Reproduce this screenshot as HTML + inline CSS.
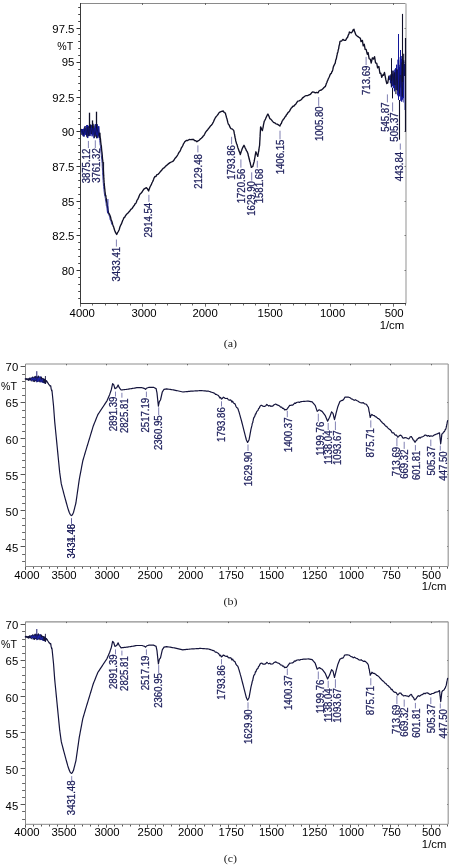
<!DOCTYPE html>
<html><head><meta charset="utf-8"><title>FTIR spectra</title>
<style>html,body{margin:0;padding:0;background:#fff;}svg{display:block;}</style>
</head><body>
<svg width="456" height="867" viewBox="0 0 456 867">
<rect width="456" height="867" fill="#fff"/>
<line x1="80.5" y1="3.5" x2="405.5" y2="3.5" stroke="#8a8a8a" stroke-width="1"/>
<line x1="406" y1="3.5" x2="406" y2="303.5" stroke="#9c9c9c" stroke-width="1.1"/>
<line x1="78.2" y1="298.5" x2="80.5" y2="298.5" stroke="#444" stroke-width="1"/>
<line x1="78.2" y1="291.5" x2="80.5" y2="291.5" stroke="#444" stroke-width="1"/>
<line x1="78.2" y1="284.5" x2="80.5" y2="284.5" stroke="#444" stroke-width="1"/>
<line x1="78.2" y1="277.5" x2="80.5" y2="277.5" stroke="#444" stroke-width="1"/>
<line x1="76.5" y1="270.5" x2="80.5" y2="270.5" stroke="#333" stroke-width="1"/>
<line x1="78.2" y1="263.5" x2="80.5" y2="263.5" stroke="#444" stroke-width="1"/>
<line x1="78.2" y1="256.5" x2="80.5" y2="256.5" stroke="#444" stroke-width="1"/>
<line x1="78.2" y1="249.5" x2="80.5" y2="249.5" stroke="#444" stroke-width="1"/>
<line x1="78.2" y1="242.5" x2="80.5" y2="242.5" stroke="#444" stroke-width="1"/>
<line x1="76.5" y1="235.5" x2="80.5" y2="235.5" stroke="#333" stroke-width="1"/>
<line x1="78.2" y1="228.5" x2="80.5" y2="228.5" stroke="#444" stroke-width="1"/>
<line x1="78.2" y1="221.5" x2="80.5" y2="221.5" stroke="#444" stroke-width="1"/>
<line x1="78.2" y1="214.5" x2="80.5" y2="214.5" stroke="#444" stroke-width="1"/>
<line x1="78.2" y1="208.5" x2="80.5" y2="208.5" stroke="#444" stroke-width="1"/>
<line x1="76.5" y1="201.5" x2="80.5" y2="201.5" stroke="#333" stroke-width="1"/>
<line x1="78.2" y1="194.5" x2="80.5" y2="194.5" stroke="#444" stroke-width="1"/>
<line x1="78.2" y1="187.5" x2="80.5" y2="187.5" stroke="#444" stroke-width="1"/>
<line x1="78.2" y1="180.5" x2="80.5" y2="180.5" stroke="#444" stroke-width="1"/>
<line x1="78.2" y1="173.5" x2="80.5" y2="173.5" stroke="#444" stroke-width="1"/>
<line x1="76.5" y1="166.5" x2="80.5" y2="166.5" stroke="#333" stroke-width="1"/>
<line x1="78.2" y1="159.5" x2="80.5" y2="159.5" stroke="#444" stroke-width="1"/>
<line x1="78.2" y1="152.5" x2="80.5" y2="152.5" stroke="#444" stroke-width="1"/>
<line x1="78.2" y1="145.5" x2="80.5" y2="145.5" stroke="#444" stroke-width="1"/>
<line x1="78.2" y1="138.5" x2="80.5" y2="138.5" stroke="#444" stroke-width="1"/>
<line x1="76.5" y1="131.5" x2="80.5" y2="131.5" stroke="#333" stroke-width="1"/>
<line x1="78.2" y1="124.5" x2="80.5" y2="124.5" stroke="#444" stroke-width="1"/>
<line x1="78.2" y1="118.5" x2="80.5" y2="118.5" stroke="#444" stroke-width="1"/>
<line x1="78.2" y1="111.5" x2="80.5" y2="111.5" stroke="#444" stroke-width="1"/>
<line x1="78.2" y1="104.5" x2="80.5" y2="104.5" stroke="#444" stroke-width="1"/>
<line x1="76.5" y1="97.5" x2="80.5" y2="97.5" stroke="#333" stroke-width="1"/>
<line x1="78.2" y1="90.5" x2="80.5" y2="90.5" stroke="#444" stroke-width="1"/>
<line x1="78.2" y1="83.5" x2="80.5" y2="83.5" stroke="#444" stroke-width="1"/>
<line x1="78.2" y1="76.5" x2="80.5" y2="76.5" stroke="#444" stroke-width="1"/>
<line x1="78.2" y1="69.5" x2="80.5" y2="69.5" stroke="#444" stroke-width="1"/>
<line x1="76.5" y1="62.5" x2="80.5" y2="62.5" stroke="#333" stroke-width="1"/>
<line x1="78.2" y1="55.5" x2="80.5" y2="55.5" stroke="#444" stroke-width="1"/>
<line x1="78.2" y1="48.5" x2="80.5" y2="48.5" stroke="#444" stroke-width="1"/>
<line x1="78.2" y1="41.5" x2="80.5" y2="41.5" stroke="#444" stroke-width="1"/>
<line x1="78.2" y1="34.5" x2="80.5" y2="34.5" stroke="#444" stroke-width="1"/>
<line x1="76.5" y1="28.5" x2="80.5" y2="28.5" stroke="#333" stroke-width="1"/>
<line x1="78.2" y1="21.5" x2="80.5" y2="21.5" stroke="#444" stroke-width="1"/>
<line x1="78.2" y1="14.5" x2="80.5" y2="14.5" stroke="#444" stroke-width="1"/>
<line x1="78.2" y1="7.5" x2="80.5" y2="7.5" stroke="#444" stroke-width="1"/>
<text transform="translate(74.4,33) scale(1.07,1)" text-anchor="end" font-size="10.6" fill="#000" font-family='"Liberation Sans", Arial, sans-serif'>97.5</text>
<text transform="translate(74.4,66) scale(1.07,1)" text-anchor="end" font-size="10.6" fill="#000" font-family='"Liberation Sans", Arial, sans-serif'>95</text>
<text transform="translate(74.4,102) scale(1.07,1)" text-anchor="end" font-size="10.6" fill="#000" font-family='"Liberation Sans", Arial, sans-serif'>92.5</text>
<text transform="translate(74.4,136) scale(1.07,1)" text-anchor="end" font-size="10.6" fill="#000" font-family='"Liberation Sans", Arial, sans-serif'>90</text>
<text transform="translate(74.4,171) scale(1.07,1)" text-anchor="end" font-size="10.6" fill="#000" font-family='"Liberation Sans", Arial, sans-serif'>87.5</text>
<text transform="translate(74.4,206) scale(1.07,1)" text-anchor="end" font-size="10.6" fill="#000" font-family='"Liberation Sans", Arial, sans-serif'>85</text>
<text transform="translate(74.4,240) scale(1.07,1)" text-anchor="end" font-size="10.6" fill="#000" font-family='"Liberation Sans", Arial, sans-serif'>82.5</text>
<text transform="translate(74.4,275) scale(1.07,1)" text-anchor="end" font-size="10.6" fill="#000" font-family='"Liberation Sans", Arial, sans-serif'>80</text>
<text x="73.2" y="49.5" text-anchor="end" font-size="10.6" fill="#000" font-family='"Liberation Sans", Arial, sans-serif'>%T</text>
<line x1="80.5" y1="303.5" x2="80.5" y2="306.7" stroke="#6a6a6a" stroke-width="1"/>
<line x1="92.5" y1="303.5" x2="92.5" y2="305.5" stroke="#6a6a6a" stroke-width="1"/>
<line x1="105.5" y1="303.5" x2="105.5" y2="305.5" stroke="#6a6a6a" stroke-width="1"/>
<line x1="117.5" y1="303.5" x2="117.5" y2="305.5" stroke="#6a6a6a" stroke-width="1"/>
<line x1="130.5" y1="303.5" x2="130.5" y2="305.5" stroke="#6a6a6a" stroke-width="1"/>
<line x1="142.5" y1="303.5" x2="142.5" y2="306.7" stroke="#6a6a6a" stroke-width="1"/>
<line x1="155.5" y1="303.5" x2="155.5" y2="305.5" stroke="#6a6a6a" stroke-width="1"/>
<line x1="167.5" y1="303.5" x2="167.5" y2="305.5" stroke="#6a6a6a" stroke-width="1"/>
<line x1="180.5" y1="303.5" x2="180.5" y2="305.5" stroke="#6a6a6a" stroke-width="1"/>
<line x1="192.5" y1="303.5" x2="192.5" y2="305.5" stroke="#6a6a6a" stroke-width="1"/>
<line x1="205.5" y1="303.5" x2="205.5" y2="306.7" stroke="#6a6a6a" stroke-width="1"/>
<line x1="218.5" y1="303.5" x2="218.5" y2="305.5" stroke="#6a6a6a" stroke-width="1"/>
<line x1="230.5" y1="303.5" x2="230.5" y2="305.5" stroke="#6a6a6a" stroke-width="1"/>
<line x1="243.5" y1="303.5" x2="243.5" y2="305.5" stroke="#6a6a6a" stroke-width="1"/>
<line x1="255.5" y1="303.5" x2="255.5" y2="305.5" stroke="#6a6a6a" stroke-width="1"/>
<line x1="268.5" y1="303.5" x2="268.5" y2="306.7" stroke="#6a6a6a" stroke-width="1"/>
<line x1="280.5" y1="303.5" x2="280.5" y2="305.5" stroke="#6a6a6a" stroke-width="1"/>
<line x1="293.5" y1="303.5" x2="293.5" y2="305.5" stroke="#6a6a6a" stroke-width="1"/>
<line x1="305.5" y1="303.5" x2="305.5" y2="305.5" stroke="#6a6a6a" stroke-width="1"/>
<line x1="318.5" y1="303.5" x2="318.5" y2="305.5" stroke="#6a6a6a" stroke-width="1"/>
<line x1="330.5" y1="303.5" x2="330.5" y2="306.7" stroke="#6a6a6a" stroke-width="1"/>
<line x1="343.5" y1="303.5" x2="343.5" y2="305.5" stroke="#6a6a6a" stroke-width="1"/>
<line x1="355.5" y1="303.5" x2="355.5" y2="305.5" stroke="#6a6a6a" stroke-width="1"/>
<line x1="368.5" y1="303.5" x2="368.5" y2="305.5" stroke="#6a6a6a" stroke-width="1"/>
<line x1="380.5" y1="303.5" x2="380.5" y2="305.5" stroke="#6a6a6a" stroke-width="1"/>
<line x1="393.5" y1="303.5" x2="393.5" y2="306.7" stroke="#6a6a6a" stroke-width="1"/>
<line x1="405.5" y1="303.5" x2="405.5" y2="305.5" stroke="#6a6a6a" stroke-width="1"/>
<line x1="142.5" y1="3.5" x2="142.5" y2="4.7" stroke="#333" stroke-width="1"/>
<line x1="205.5" y1="3.5" x2="205.5" y2="4.7" stroke="#333" stroke-width="1"/>
<line x1="268.5" y1="3.5" x2="268.5" y2="4.7" stroke="#333" stroke-width="1"/>
<line x1="330.5" y1="3.5" x2="330.5" y2="4.7" stroke="#333" stroke-width="1"/>
<line x1="393.5" y1="3.5" x2="393.5" y2="4.7" stroke="#333" stroke-width="1"/>
<line x1="404.5" y1="28.5" x2="406" y2="28.5" stroke="#777" stroke-width="1"/>
<line x1="404.5" y1="62.5" x2="406" y2="62.5" stroke="#777" stroke-width="1"/>
<line x1="404.5" y1="97.5" x2="406" y2="97.5" stroke="#777" stroke-width="1"/>
<line x1="404.5" y1="131.5" x2="406" y2="131.5" stroke="#777" stroke-width="1"/>
<line x1="404.5" y1="166.5" x2="406" y2="166.5" stroke="#777" stroke-width="1"/>
<line x1="404.5" y1="201.5" x2="406" y2="201.5" stroke="#777" stroke-width="1"/>
<line x1="404.5" y1="235.5" x2="406" y2="235.5" stroke="#777" stroke-width="1"/>
<line x1="404.5" y1="270.5" x2="406" y2="270.5" stroke="#777" stroke-width="1"/>
<line x1="80.5" y1="3" x2="80.5" y2="304" stroke="#3a3a3a" stroke-width="1"/>
<line x1="80" y1="303.5" x2="406" y2="303.5" stroke="#3a3a3a" stroke-width="1"/>
<text transform="translate(82.2,316.5) scale(1.07,1)" text-anchor="middle" font-size="10.6" fill="#000" font-family='"Liberation Sans", Arial, sans-serif'>4000</text>
<text transform="translate(144,316.5) scale(1.07,1)" text-anchor="middle" font-size="10.6" fill="#000" font-family='"Liberation Sans", Arial, sans-serif'>3000</text>
<text transform="translate(205.1,316.5) scale(1.07,1)" text-anchor="middle" font-size="10.6" fill="#000" font-family='"Liberation Sans", Arial, sans-serif'>2000</text>
<text transform="translate(270.2,316.5) scale(1.07,1)" text-anchor="middle" font-size="10.6" fill="#000" font-family='"Liberation Sans", Arial, sans-serif'>1500</text>
<text transform="translate(332.6,316.5) scale(1.07,1)" text-anchor="middle" font-size="10.6" fill="#000" font-family='"Liberation Sans", Arial, sans-serif'>1000</text>
<text transform="translate(394.15,316.5) scale(1.07,1)" text-anchor="middle" font-size="10.6" fill="#000" font-family='"Liberation Sans", Arial, sans-serif'>500</text>
<text transform="translate(404.2,328.8) scale(1.07,1)" text-anchor="end" font-size="10.6" fill="#000" font-family='"Liberation Sans", Arial, sans-serif'>1/cm</text>
<text transform="translate(230.3,346.7) scale(1.07,1)" text-anchor="middle" font-size="11.2" fill="#222" font-family='"Liberation Serif", "Times New Roman", serif'>(a)</text>
<polyline points="80.9,131.6 81.2,129.26 82.04,135.02 82.92,129.12 83.37,136.4 84.44,127.14 85.03,133.76 85.8,128.31 86.59,135.22 87.11,126.87 88.2,136.11 89.19,126.54 89.64,134.82 90.52,124.68 90.94,134.07 91.72,126.55 92.82,134.78 93.96,125.51 95,136.65 96.15,127.8 96.63,138.23 97.2,128.12 97.95,135.75 98.59,127.07 99.3,136.95 99.8,133.2" fill="none" stroke="#101028" stroke-width="0.9" stroke-linejoin="round" stroke-linecap="round"/>
<polyline points="81.5,129.51 82.03,133.73 82.51,129.04 83.06,135.81 83.56,128.79 84.21,136.49 84.61,126.49 85.27,134.81 85.54,128.96 86.27,135.11 86.83,125.07 87.08,135.77 87.36,124.97 87.73,138.07 88.22,125.81 88.89,136.1 89.46,125.69 90.04,136.04 90.43,127.72 91.18,134.13 91.78,124.85 92.14,136.34 92.43,126.84 92.88,134.23 93.32,127.82 94,138.25 94.35,127.78 94.84,134.22 95.29,124.13 95.85,135.41 96.24,124.2 96.65,134.49 97.28,124.33 97.65,138.14 97.93,127.32 98.27,136.07 98.75,126.11 99.36,137.71" fill="none" stroke="#13179a" stroke-width="1.0" stroke-linejoin="round" stroke-linecap="round"/>
<polyline points="98.9,133.2 99.06,134.7 99.22,136.67 99.38,138.41 99.54,138.66 99.7,140.5 99.86,142.39 100.02,143.69 100.19,145.03 100.35,145.45 100.51,146.71 100.67,148.77 100.84,150.83 101,151.8 101.14,152.75 101.28,154.6 101.41,155.67 101.55,158.02 101.69,159.6 101.82,160.02 101.96,162.5 102.1,163 102.17,163.6 102.24,166.33 102.31,167.83 102.39,167.91 102.46,170.3 102.53,171.42 102.6,172.7 102.69,174.91 102.77,174.95 102.86,176.93 102.94,178.93 103.03,179.88 103.11,180.67 103.2,182.4 103.34,183.03 103.49,185.96 103.63,186.51 103.77,188.84 103.91,188.68 104.06,191.28 104.2,192.1 104.43,194.05 104.66,195.63 104.89,195.39 105.11,197.41 105.34,198.22 105.57,200.87 105.8,201.8 106.07,203.14 106.35,205.83 106.62,206.37 106.9,208.2 107.17,210.29 107.43,212.06 107.7,213 108.55,214.18 109.4,216.3 109.8,217.75 110.2,219.82 110.6,220.4 111,221.45 111.4,222.79 111.8,224.4" fill="none" stroke="#13179a" stroke-width="0.8" stroke-linejoin="round" stroke-linecap="round"/>
<polyline points="99.3,136.95 99.8,133.2 99.96,134.7 100.12,136.67 100.28,138.41 100.44,138.66 100.6,140.5 100.76,142.39 100.92,143.69 101.09,145.03 101.25,145.45 101.41,146.71 101.58,148.77 101.74,150.83 101.9,151.8 102.04,152.75 102.18,154.6 102.31,155.67 102.45,158.02 102.59,159.6 102.72,160.02 102.86,162.5 103,163 103.07,163.6 103.14,166.33 103.21,167.83 103.29,167.91 103.36,170.3 103.43,171.42 103.5,172.7 103.59,174.91 103.67,174.95 103.76,176.93 103.84,178.93 103.93,179.88 104.01,180.67 104.1,182.4 104.24,183.03 104.39,185.96 104.53,186.51 104.67,188.84 104.81,188.68 104.96,191.28 105.1,192.1 105.33,194.05 105.56,195.63 105.79,195.39 106.01,197.41 106.24,198.22 106.47,200.87 106.7,201.8 106.97,203.14 107.25,205.83 107.53,206.37 107.8,208.2 108.07,210.29 108.33,212.06 108.6,213 109.45,214.18 110.3,216.3 110.7,217.75 111.1,219.82 111.5,220.4 111.9,221.45 112.3,222.79 112.7,224.4 113.18,226.16 113.66,226.94 114.14,228.83 114.62,230.22 115.1,231.6 115.9,233.11 116.7,234.5 117.5,232.64 118.3,231.6 118.78,230.49 119.26,229.5 119.74,227.56 120.22,226.3 120.7,225.2 121.33,224.22 121.95,222.44 122.58,220.67 123.2,219.5 124,217.63 124.8,217.11 125.6,215.5 126.8,214.08 128,213 129,211.81 130,210.7 130.88,209.37 131.76,208.69 132.64,207.71 133.52,206.17 134.4,205.3 135.06,203.67 135.72,203.52 136.38,202.27 137.04,200.13 137.7,199.5 138.25,198.27 138.8,197.1 139.35,195.49 139.9,194.3 140.78,193.45 141.66,192.61 142.54,191.1 143.42,189.78 144.3,188.8 146.4,187.7 147.13,188.47 147.87,189.63 148.6,191 149.15,189.24 149.7,187.82 150.25,186.56 150.8,185.5 151.35,184.61 151.9,183.01 152.45,182.04 153,180.9 153.55,179.51 154.1,177.9 155.04,176.46 155.99,176.48 156.93,174.62 157.87,174.43 158.81,173.56 159.76,172.42 160.7,171.3 161.64,170.25 162.59,168.95 163.53,168.02 164.47,167.68 165.41,166.3 166.36,165.68 167.3,164.7 168.68,163.62 170.05,162.68 171.43,162 172.8,161.4 173.66,160.55 174.52,159.19 175.38,157.98 176.24,156.99 177.1,155.9 177.79,154.72 178.47,153.44 179.16,152.13 179.85,151.46 180.54,149.99 181.22,148.18 181.91,147.04 182.6,146 183.33,144.22 184.07,142.98 184.8,141.7 186.27,140.45 187.73,140.5 189.2,139.5 190.67,139.57 192.13,139.41 193.6,139.5 194.7,140.67 195.8,140.78 196.9,141.7 198,140.91 199.1,140.41 200.2,139.11 201.3,138.28 202.4,137.3 203.13,136.08 203.87,135.55 204.6,134.23 205.33,132.72 206.07,131.67 206.8,130.7 207.7,129.68 208.6,128.52 209.5,127.42 210.4,126.02 211.3,125.27 212.2,124.1 212.86,122.96 213.52,121.7 214.18,120.09 214.84,118.77 215.5,117.5 216.38,116.42 217.26,115.37 218.14,114.24 219.02,112.74 219.9,112.1 221.55,111.34 223.2,111 224.3,112.54 225.4,113.2 225.76,114.86 226.12,115.9 226.49,117.51 226.85,118.39 227.21,119.8 227.58,121.39 227.94,122.92 228.3,124.1 229,124.82 229.7,126.37 230.4,127.92 231.1,128.7 232.5,129.1 233.8,130.6 234.07,132.14 234.34,133.93 234.61,134.57 234.89,136.74 235.16,138.12 235.43,138.83 235.7,140.7 236.15,142.12 236.6,143.7 237.05,144.6 237.5,146.37 237.95,147.93 238.4,149 238.88,150.64 239.35,151.69 239.83,152.73 240.3,154.5 240.75,153.16 241.2,151.47 241.65,150.41 242.1,149 242.73,147.56 243.37,146.4 244,145.3 244.6,146.57 245.2,148.05 245.8,149 246.4,150.66 247,151.38 247.6,152.7 247.98,153.72 248.36,155.85 248.74,156.94 249.12,158.77 249.5,160 249.86,161.78 250.22,162.54 250.58,164.65 250.94,165.73 251.3,167.4 252.8,166.5 253.23,164.81 253.67,163.28 254.1,161.9 254.36,160.49 254.61,158.78 254.87,157.57 255.13,155.93 255.39,154.35 255.64,153.02 255.9,151.8 256.53,153.5 257.17,154.7 257.8,156.4 258.03,154.74 258.25,153.5 258.48,151.98 258.7,151.29 258.93,149.72 259.15,147.76 259.38,146.5 259.6,145.3 259.67,143.93 259.74,142.7 259.81,141.26 259.89,140.06 259.96,138.96 260.03,137.1 260.1,136.15 260.17,134.48 260.24,133.5 260.31,131.99 260.39,131.12 260.46,129.87 260.53,128.63 260.6,126.9 261.2,128.05 261.8,129.47 262.4,130.6 262.66,128.97 262.91,128.13 263.17,126.86 263.43,125.22 263.69,123.8 263.94,122.86 264.2,121.3 264.83,120.29 265.47,119.1 266.1,117.6 266.7,116.21 267.3,114.97 267.9,114 268.53,115.31 269.17,116.79 269.8,118.6 270.73,119.08 271.65,120.11 272.57,121.37 273.5,122.3 274.7,122.84 275.9,123.85 277.1,124.1 278.5,124.94 279.9,126 280.6,124.3 281.3,123.59 282,121.42 282.7,120.4 283.44,119.16 284.18,118.44 284.92,116.94 285.66,116.42 286.4,114.9 287.19,114.06 287.97,112.61 288.76,112.06 289.54,111.05 290.33,109.63 291.11,108.24 291.9,107.5 292.93,106.24 293.97,105.99 295,104.8 295.93,103.92 296.87,102.47 297.8,101.1 299.15,100.9 300.5,100.2 301.43,99.53 302.37,98.1 303.3,97.4 304.7,96.24 306.1,95.6 307.9,95.48 309.7,94.7 310.63,94.07 311.57,92.78 312.5,91.9 313.9,92.14 315.3,92.8 316.65,92.42 318,92.8 319,91 320.2,90.28 321.4,90.1 322.6,89.1 324,87.48 325.4,86.4 325.87,85 326.33,83.51 326.8,82.76 327.27,81.07 327.73,80.39 328.2,79 328.82,77.76 329.43,76.46 330.05,74.82 330.67,73.67 331.28,73.62 331.9,71.6 332.35,71.25 332.8,69.64 333.25,67.33 333.7,66.08 334.15,65.16 334.6,64.2 334.98,63.67 335.36,62.53 335.74,59.82 336.12,59.35 336.5,57.8 336.8,56.18 337.1,54.94 337.4,53.05 337.7,52.71 338,51.45 338.3,49.5 338.62,49 338.93,46.7 339.25,45.23 339.57,44.26 339.88,41.85 340.2,41.2 341.55,41.06 342.9,39.4 344.3,40.39 345.7,40.3 346.6,38.36 347.5,37.5 347.98,35.93 348.45,34.72 348.92,34.08 349.4,32 351.2,32.9 352.13,32.05 353.07,29.91 354,29.2 354.45,31.5 354.9,32 355.53,34.09 356.17,35.18 356.8,35.7 358,36.59 359.2,37.45 360.4,38.4 361,41.69 362.4,40.36 363.22,45.78 364.27,44.3 365.13,49.39 366.19,49.53 367.26,54.22 368.09,52.62 369.14,58.73 370.39,59.39 371.2,63.05 372.36,57.83 373.54,59.06 374.55,56.69 375.56,62.85 376.77,63.46 377.59,67.8 378.84,66.4 379.9,73.21 380.79,73.06 381.77,77.37 382.67,74.91 383.51,75.32 384.46,72.4 385.77,79.47 386.79,83.51 387.76,82.85 388.89,76.17 389.17,78.52 389.7,79.2" fill="none" stroke="#101028" stroke-width="1.35" stroke-linejoin="round" stroke-linecap="round"/>
<polyline points="81.5,129.1 83.4,134.53 85.56,126.12 86.72,137.2 87.88,127.14 88.89,136.04 90.04,124.61 91.53,134.08 93.3,123.77 94.54,137.81 96.73,127.45 98.82,135.13" fill="none" stroke="#101028" stroke-width="0.6" stroke-linejoin="round" stroke-linecap="round"/>
<line x1="89.5" y1="112.7" x2="89.5" y2="128" stroke="#101028" stroke-width="1.3"/>
<line x1="96.5" y1="111.7" x2="96.5" y2="128" stroke="#101028" stroke-width="1.3"/>
<line x1="92.5" y1="120.4" x2="92.5" y2="128" stroke="#101028" stroke-width="1.3"/>
<polyline points="389.7,79.2 390,75.43 390.43,83.18 390.94,75.73 391.44,87.31 391.78,76.55 392.18,83.78 392.39,73.88 392.65,85.98 393.03,70.7 393.28,88.08 393.78,74.4 394.01,85.57 394.23,73.09 394.45,91.25 394.93,69.59 395.18,85.09 395.66,68.23 396.17,90.11 396.58,64.78 397.09,90 397.6,69.95 397.88,95.21 398.11,59.69 398.31,96.26 398.7,57.11 399.11,95.93 399.39,67.03 399.74,96.33 400.08,64.84 400.28,87.36 400.46,65.09 400.93,100.72 401.38,58.98 401.76,101.63 401.95,56 402.46,99.54 402.9,66.73 403.4,98.13 403.7,60.31 404.15,102.45 404.59,64.13 405.06,104.47 405.57,51.94" fill="none" stroke="#13179a" stroke-width="1.0" stroke-linejoin="round" stroke-linecap="round"/>
<polyline points="390.5,74.66 391.46,86.83 392.96,70.75 394.07,84.96 394.71,72.25 395.93,94.13 396.9,69.14 397.95,90.79 398.67,60.18 399.34,93.73 400.91,62.42 402.31,96.65 403.68,53.78 404.55,93.81" fill="none" stroke="#101028" stroke-width="0.7" stroke-linejoin="round" stroke-linecap="round"/>
<line x1="391.5" y1="58.2" x2="391.5" y2="80.8" stroke="#101028" stroke-width="1.0"/>
<line x1="392.5" y1="88" x2="392.5" y2="98.4" stroke="#101028" stroke-width="1.0"/>
<line x1="398.5" y1="34" x2="398.5" y2="100" stroke="#13179a" stroke-width="1.0"/>
<line x1="399.5" y1="100" x2="399.5" y2="139.7" stroke="#101028" stroke-width="1.1"/>
<line x1="402.5" y1="13.9" x2="402.5" y2="82" stroke="#101028" stroke-width="1.1"/>
<line x1="405.5" y1="38" x2="405.5" y2="131.8" stroke="#101028" stroke-width="1.2"/>
<line x1="400.5" y1="50" x2="400.5" y2="75" stroke="#13179a" stroke-width="1.0"/>
<line x1="404.5" y1="76" x2="404.5" y2="110" stroke="#8a8fc8" stroke-width="1.0"/>
<line x1="103.6" y1="162" x2="103.6" y2="176" stroke="#101028" stroke-width="0.9"/>
<line x1="107.9" y1="199" x2="107.9" y2="213" stroke="#13179a" stroke-width="0.9"/>
<text transform="translate(90.01,148.72) scale(1.06,1) rotate(-90)" text-anchor="end" font-size="9.6" fill="#1d1f5c" stroke="#1d1f5c" stroke-width="0.25" font-family='"Liberation Sans", Arial, sans-serif'>3875.12</text>
<line x1="88.4" y1="140.9" x2="88.4" y2="148.1" stroke="#55559a" stroke-width="0.75"/>
<text transform="translate(99.51,148.22) scale(1.06,1) rotate(-90)" text-anchor="end" font-size="9.6" fill="#1d1f5c" stroke="#1d1f5c" stroke-width="0.25" font-family='"Liberation Sans", Arial, sans-serif'>3761.32</text>
<line x1="95.3" y1="140.3" x2="95.3" y2="148" stroke="#55559a" stroke-width="0.75"/>
<text transform="translate(120.06,246.93) scale(1.06,1) rotate(-90)" text-anchor="end" font-size="9.6" fill="#1d1f5c" stroke="#1d1f5c" stroke-width="0.25" font-family='"Liberation Sans", Arial, sans-serif'>3433.41</text>
<line x1="116.4" y1="239.5" x2="116.4" y2="246.6" stroke="#55559a" stroke-width="0.75"/>
<text transform="translate(152.41,202.82) scale(1.06,1) rotate(-90)" text-anchor="end" font-size="9.6" fill="#1d1f5c" stroke="#1d1f5c" stroke-width="0.25" font-family='"Liberation Sans", Arial, sans-serif'>2914.54</text>
<line x1="148.9" y1="194.8" x2="148.9" y2="201.8" stroke="#55559a" stroke-width="0.75"/>
<text transform="translate(201.86,154.18) scale(1.06,1) rotate(-90)" text-anchor="end" font-size="9.6" fill="#1d1f5c" stroke="#1d1f5c" stroke-width="0.25" font-family='"Liberation Sans", Arial, sans-serif'>2129.48</text>
<line x1="197.9" y1="145.4" x2="197.9" y2="152.4" stroke="#55559a" stroke-width="0.75"/>
<text transform="translate(234.96,145.18) scale(1.06,1) rotate(-90)" text-anchor="end" font-size="9.6" fill="#1d1f5c" stroke="#1d1f5c" stroke-width="0.25" font-family='"Liberation Sans", Arial, sans-serif'>1793.86</text>
<line x1="231.6" y1="136.8" x2="231.6" y2="144.2" stroke="#55559a" stroke-width="0.75"/>
<text transform="translate(244.86,168.68) scale(1.06,1) rotate(-90)" text-anchor="end" font-size="9.6" fill="#1d1f5c" stroke="#1d1f5c" stroke-width="0.25" font-family='"Liberation Sans", Arial, sans-serif'>1720.56</text>
<line x1="240.9" y1="159.4" x2="240.9" y2="167.7" stroke="#55559a" stroke-width="0.75"/>
<text transform="translate(255.46,181.12) scale(1.06,1) rotate(-90)" text-anchor="end" font-size="9.6" fill="#1d1f5c" stroke="#1d1f5c" stroke-width="0.25" font-family='"Liberation Sans", Arial, sans-serif'>1629.90</text>
<line x1="251.7" y1="172.3" x2="251.7" y2="180.6" stroke="#55559a" stroke-width="0.75"/>
<text transform="translate(263.46,168.68) scale(1.06,1) rotate(-90)" text-anchor="end" font-size="9.6" fill="#1d1f5c" stroke="#1d1f5c" stroke-width="0.25" font-family='"Liberation Sans", Arial, sans-serif'>1581.68</text>
<line x1="257.3" y1="160.8" x2="257.3" y2="167.7" stroke="#55559a" stroke-width="0.75"/>
<text transform="translate(283.91,139.7) scale(1.06,1) rotate(-90)" text-anchor="end" font-size="9.6" fill="#1d1f5c" stroke="#1d1f5c" stroke-width="0.25" font-family='"Liberation Sans", Arial, sans-serif'>1406.15</text>
<line x1="280" y1="130.7" x2="280" y2="139.4" stroke="#55559a" stroke-width="0.75"/>
<text transform="translate(322.66,106.42) scale(1.06,1) rotate(-90)" text-anchor="end" font-size="9.6" fill="#1d1f5c" stroke="#1d1f5c" stroke-width="0.25" font-family='"Liberation Sans", Arial, sans-serif'>1005.80</text>
<line x1="318.7" y1="97.1" x2="318.7" y2="105.8" stroke="#55559a" stroke-width="0.75"/>
<text transform="translate(370.46,65.65) scale(1.06,1) rotate(-90)" text-anchor="end" font-size="9.6" fill="#1d1f5c" stroke="#1d1f5c" stroke-width="0.25" font-family='"Liberation Sans", Arial, sans-serif'>713.69</text>
<line x1="366.1" y1="56.9" x2="366.1" y2="65" stroke="#55559a" stroke-width="0.75"/>
<text transform="translate(388.96,102.52) scale(1.06,1) rotate(-90)" text-anchor="end" font-size="9.6" fill="#1d1f5c" stroke="#1d1f5c" stroke-width="0.25" font-family='"Liberation Sans", Arial, sans-serif'>545.87</text>
<line x1="387.4" y1="94.4" x2="387.4" y2="102.4" stroke="#55559a" stroke-width="0.75"/>
<text transform="translate(398.16,112.32) scale(1.06,1) rotate(-90)" text-anchor="end" font-size="9.6" fill="#1d1f5c" stroke="#1d1f5c" stroke-width="0.25" font-family='"Liberation Sans", Arial, sans-serif'>505.37</text>
<line x1="392.6" y1="102.4" x2="392.6" y2="111.6" stroke="#55559a" stroke-width="0.75"/>
<text transform="translate(403.26,151.82) scale(1.06,1) rotate(-90)" text-anchor="end" font-size="9.6" fill="#1d1f5c" stroke="#1d1f5c" stroke-width="0.25" font-family='"Liberation Sans", Arial, sans-serif'>443.84</text>
<line x1="400.3" y1="143.5" x2="400.3" y2="149.7" stroke="#55559a" stroke-width="0.75"/>
<line x1="25.5" y1="364" x2="448.2" y2="364" stroke="#8e8e8e" stroke-width="1.2"/>
<line x1="448.2" y1="364" x2="448.2" y2="566.5" stroke="#9a9a9a" stroke-width="1.2"/>
<line x1="22.1" y1="561.5" x2="25.5" y2="561.5" stroke="#666" stroke-width="1"/>
<line x1="22.1" y1="554.5" x2="25.5" y2="554.5" stroke="#666" stroke-width="1"/>
<line x1="20.6" y1="546.5" x2="25.5" y2="546.5" stroke="#555" stroke-width="1"/>
<line x1="22.1" y1="539.5" x2="25.5" y2="539.5" stroke="#666" stroke-width="1"/>
<line x1="22.1" y1="532.5" x2="25.5" y2="532.5" stroke="#666" stroke-width="1"/>
<line x1="22.1" y1="525.5" x2="25.5" y2="525.5" stroke="#666" stroke-width="1"/>
<line x1="22.1" y1="518.5" x2="25.5" y2="518.5" stroke="#666" stroke-width="1"/>
<line x1="20.6" y1="510.5" x2="25.5" y2="510.5" stroke="#555" stroke-width="1"/>
<line x1="22.1" y1="503.5" x2="25.5" y2="503.5" stroke="#666" stroke-width="1"/>
<line x1="22.1" y1="496.5" x2="25.5" y2="496.5" stroke="#666" stroke-width="1"/>
<line x1="22.1" y1="489.5" x2="25.5" y2="489.5" stroke="#666" stroke-width="1"/>
<line x1="22.1" y1="482.5" x2="25.5" y2="482.5" stroke="#666" stroke-width="1"/>
<line x1="20.6" y1="474.5" x2="25.5" y2="474.5" stroke="#555" stroke-width="1"/>
<line x1="22.1" y1="467.5" x2="25.5" y2="467.5" stroke="#666" stroke-width="1"/>
<line x1="22.1" y1="460.5" x2="25.5" y2="460.5" stroke="#666" stroke-width="1"/>
<line x1="22.1" y1="453.5" x2="25.5" y2="453.5" stroke="#666" stroke-width="1"/>
<line x1="22.1" y1="446.5" x2="25.5" y2="446.5" stroke="#666" stroke-width="1"/>
<line x1="20.6" y1="438.5" x2="25.5" y2="438.5" stroke="#555" stroke-width="1"/>
<line x1="22.1" y1="431.5" x2="25.5" y2="431.5" stroke="#666" stroke-width="1"/>
<line x1="22.1" y1="424.5" x2="25.5" y2="424.5" stroke="#666" stroke-width="1"/>
<line x1="22.1" y1="417.5" x2="25.5" y2="417.5" stroke="#666" stroke-width="1"/>
<line x1="22.1" y1="410.5" x2="25.5" y2="410.5" stroke="#666" stroke-width="1"/>
<line x1="20.6" y1="402.5" x2="25.5" y2="402.5" stroke="#555" stroke-width="1"/>
<line x1="22.1" y1="395.5" x2="25.5" y2="395.5" stroke="#666" stroke-width="1"/>
<line x1="22.1" y1="388.5" x2="25.5" y2="388.5" stroke="#666" stroke-width="1"/>
<line x1="22.1" y1="381.5" x2="25.5" y2="381.5" stroke="#666" stroke-width="1"/>
<line x1="22.1" y1="374.5" x2="25.5" y2="374.5" stroke="#666" stroke-width="1"/>
<line x1="20.6" y1="366.5" x2="25.5" y2="366.5" stroke="#555" stroke-width="1"/>
<text transform="translate(18.2,371) scale(1.07,1)" text-anchor="end" font-size="10.6" fill="#000" font-family='"Liberation Sans", Arial, sans-serif'>70</text>
<text transform="translate(18.2,407) scale(1.07,1)" text-anchor="end" font-size="10.6" fill="#000" font-family='"Liberation Sans", Arial, sans-serif'>65</text>
<text transform="translate(18.2,444) scale(1.07,1)" text-anchor="end" font-size="10.6" fill="#000" font-family='"Liberation Sans", Arial, sans-serif'>60</text>
<text transform="translate(18.2,480) scale(1.07,1)" text-anchor="end" font-size="10.6" fill="#000" font-family='"Liberation Sans", Arial, sans-serif'>55</text>
<text transform="translate(18.2,516) scale(1.07,1)" text-anchor="end" font-size="10.6" fill="#000" font-family='"Liberation Sans", Arial, sans-serif'>50</text>
<text transform="translate(18.2,552) scale(1.07,1)" text-anchor="end" font-size="10.6" fill="#000" font-family='"Liberation Sans", Arial, sans-serif'>45</text>
<text x="17" y="389.7" text-anchor="end" font-size="10.6" fill="#000" font-family='"Liberation Sans", Arial, sans-serif'>%T</text>
<line x1="25.5" y1="566.5" x2="25.5" y2="569.9" stroke="#555" stroke-width="1"/>
<line x1="33.5" y1="566.5" x2="33.5" y2="568.7" stroke="#555" stroke-width="1"/>
<line x1="41.5" y1="566.5" x2="41.5" y2="568.7" stroke="#555" stroke-width="1"/>
<line x1="49.5" y1="566.5" x2="49.5" y2="568.7" stroke="#555" stroke-width="1"/>
<line x1="57.5" y1="566.5" x2="57.5" y2="568.7" stroke="#555" stroke-width="1"/>
<line x1="66.5" y1="566.5" x2="66.5" y2="569.9" stroke="#555" stroke-width="1"/>
<line x1="74.5" y1="566.5" x2="74.5" y2="568.7" stroke="#555" stroke-width="1"/>
<line x1="82.5" y1="566.5" x2="82.5" y2="568.7" stroke="#555" stroke-width="1"/>
<line x1="90.5" y1="566.5" x2="90.5" y2="568.7" stroke="#555" stroke-width="1"/>
<line x1="98.5" y1="566.5" x2="98.5" y2="568.7" stroke="#555" stroke-width="1"/>
<line x1="106.5" y1="566.5" x2="106.5" y2="569.9" stroke="#555" stroke-width="1"/>
<line x1="114.5" y1="566.5" x2="114.5" y2="568.7" stroke="#555" stroke-width="1"/>
<line x1="122.5" y1="566.5" x2="122.5" y2="568.7" stroke="#555" stroke-width="1"/>
<line x1="130.5" y1="566.5" x2="130.5" y2="568.7" stroke="#555" stroke-width="1"/>
<line x1="139.5" y1="566.5" x2="139.5" y2="568.7" stroke="#555" stroke-width="1"/>
<line x1="147.5" y1="566.5" x2="147.5" y2="569.9" stroke="#555" stroke-width="1"/>
<line x1="155.5" y1="566.5" x2="155.5" y2="568.7" stroke="#555" stroke-width="1"/>
<line x1="163.5" y1="566.5" x2="163.5" y2="568.7" stroke="#555" stroke-width="1"/>
<line x1="171.5" y1="566.5" x2="171.5" y2="568.7" stroke="#555" stroke-width="1"/>
<line x1="179.5" y1="566.5" x2="179.5" y2="568.7" stroke="#555" stroke-width="1"/>
<line x1="187.5" y1="566.5" x2="187.5" y2="569.9" stroke="#555" stroke-width="1"/>
<line x1="195.5" y1="566.5" x2="195.5" y2="568.7" stroke="#555" stroke-width="1"/>
<line x1="204.5" y1="566.5" x2="204.5" y2="568.7" stroke="#555" stroke-width="1"/>
<line x1="212.5" y1="566.5" x2="212.5" y2="568.7" stroke="#555" stroke-width="1"/>
<line x1="220.5" y1="566.5" x2="220.5" y2="568.7" stroke="#555" stroke-width="1"/>
<line x1="228.5" y1="566.5" x2="228.5" y2="569.9" stroke="#555" stroke-width="1"/>
<line x1="236.5" y1="566.5" x2="236.5" y2="568.7" stroke="#555" stroke-width="1"/>
<line x1="244.5" y1="566.5" x2="244.5" y2="568.7" stroke="#555" stroke-width="1"/>
<line x1="252.5" y1="566.5" x2="252.5" y2="568.7" stroke="#555" stroke-width="1"/>
<line x1="260.5" y1="566.5" x2="260.5" y2="568.7" stroke="#555" stroke-width="1"/>
<line x1="269.5" y1="566.5" x2="269.5" y2="569.9" stroke="#555" stroke-width="1"/>
<line x1="277.5" y1="566.5" x2="277.5" y2="568.7" stroke="#555" stroke-width="1"/>
<line x1="285.5" y1="566.5" x2="285.5" y2="568.7" stroke="#555" stroke-width="1"/>
<line x1="293.5" y1="566.5" x2="293.5" y2="568.7" stroke="#555" stroke-width="1"/>
<line x1="301.5" y1="566.5" x2="301.5" y2="568.7" stroke="#555" stroke-width="1"/>
<line x1="309.5" y1="566.5" x2="309.5" y2="569.9" stroke="#555" stroke-width="1"/>
<line x1="317.5" y1="566.5" x2="317.5" y2="568.7" stroke="#555" stroke-width="1"/>
<line x1="325.5" y1="566.5" x2="325.5" y2="568.7" stroke="#555" stroke-width="1"/>
<line x1="333.5" y1="566.5" x2="333.5" y2="568.7" stroke="#555" stroke-width="1"/>
<line x1="342.5" y1="566.5" x2="342.5" y2="568.7" stroke="#555" stroke-width="1"/>
<line x1="350.5" y1="566.5" x2="350.5" y2="569.9" stroke="#555" stroke-width="1"/>
<line x1="358.5" y1="566.5" x2="358.5" y2="568.7" stroke="#555" stroke-width="1"/>
<line x1="366.5" y1="566.5" x2="366.5" y2="568.7" stroke="#555" stroke-width="1"/>
<line x1="374.5" y1="566.5" x2="374.5" y2="568.7" stroke="#555" stroke-width="1"/>
<line x1="382.5" y1="566.5" x2="382.5" y2="568.7" stroke="#555" stroke-width="1"/>
<line x1="390.5" y1="566.5" x2="390.5" y2="569.9" stroke="#555" stroke-width="1"/>
<line x1="398.5" y1="566.5" x2="398.5" y2="568.7" stroke="#555" stroke-width="1"/>
<line x1="407.5" y1="566.5" x2="407.5" y2="568.7" stroke="#555" stroke-width="1"/>
<line x1="415.5" y1="566.5" x2="415.5" y2="568.7" stroke="#555" stroke-width="1"/>
<line x1="423.5" y1="566.5" x2="423.5" y2="568.7" stroke="#555" stroke-width="1"/>
<line x1="431.5" y1="566.5" x2="431.5" y2="569.9" stroke="#555" stroke-width="1"/>
<line x1="439.5" y1="566.5" x2="439.5" y2="568.7" stroke="#555" stroke-width="1"/>
<line x1="447.5" y1="566.5" x2="447.5" y2="568.7" stroke="#555" stroke-width="1"/>
<line x1="25.5" y1="364" x2="25.5" y2="567" stroke="#8a8a8a" stroke-width="1"/>
<line x1="25" y1="566.5" x2="448" y2="566.5" stroke="#8a8a8a" stroke-width="1"/>
<text transform="translate(26.9,578.6) scale(1.07,1)" text-anchor="middle" font-size="10.6" fill="#000" font-family='"Liberation Sans", Arial, sans-serif'>4000</text>
<text transform="translate(64.05,578.6) scale(1.07,1)" text-anchor="middle" font-size="10.6" fill="#000" font-family='"Liberation Sans", Arial, sans-serif'>3500</text>
<text transform="translate(107,578.6) scale(1.07,1)" text-anchor="middle" font-size="10.6" fill="#000" font-family='"Liberation Sans", Arial, sans-serif'>3000</text>
<text transform="translate(150.2,578.6) scale(1.07,1)" text-anchor="middle" font-size="10.6" fill="#000" font-family='"Liberation Sans", Arial, sans-serif'>2500</text>
<text transform="translate(190.6,578.6) scale(1.07,1)" text-anchor="middle" font-size="10.6" fill="#000" font-family='"Liberation Sans", Arial, sans-serif'>2000</text>
<text transform="translate(231.2,578.6) scale(1.07,1)" text-anchor="middle" font-size="10.6" fill="#000" font-family='"Liberation Sans", Arial, sans-serif'>1750</text>
<text transform="translate(271.5,578.6) scale(1.07,1)" text-anchor="middle" font-size="10.6" fill="#000" font-family='"Liberation Sans", Arial, sans-serif'>1500</text>
<text transform="translate(314.7,578.6) scale(1.07,1)" text-anchor="middle" font-size="10.6" fill="#000" font-family='"Liberation Sans", Arial, sans-serif'>1250</text>
<text transform="translate(351.35,578.6) scale(1.07,1)" text-anchor="middle" font-size="10.6" fill="#000" font-family='"Liberation Sans", Arial, sans-serif'>1000</text>
<text transform="translate(391.35,578.6) scale(1.07,1)" text-anchor="middle" font-size="10.6" fill="#000" font-family='"Liberation Sans", Arial, sans-serif'>750</text>
<text transform="translate(431.5,578.6) scale(1.07,1)" text-anchor="middle" font-size="10.6" fill="#000" font-family='"Liberation Sans", Arial, sans-serif'>500</text>
<line x1="66.5" y1="364" x2="66.5" y2="365.3" stroke="#666" stroke-width="1"/>
<line x1="106.5" y1="364" x2="106.5" y2="365.3" stroke="#666" stroke-width="1"/>
<line x1="147.5" y1="364" x2="147.5" y2="365.3" stroke="#666" stroke-width="1"/>
<line x1="187.5" y1="364" x2="187.5" y2="365.3" stroke="#666" stroke-width="1"/>
<line x1="228.5" y1="364" x2="228.5" y2="365.3" stroke="#666" stroke-width="1"/>
<line x1="269.5" y1="364" x2="269.5" y2="365.3" stroke="#666" stroke-width="1"/>
<line x1="309.5" y1="364" x2="309.5" y2="365.3" stroke="#666" stroke-width="1"/>
<line x1="350.5" y1="364" x2="350.5" y2="365.3" stroke="#666" stroke-width="1"/>
<line x1="390.5" y1="364" x2="390.5" y2="365.3" stroke="#666" stroke-width="1"/>
<line x1="431.5" y1="364" x2="431.5" y2="365.3" stroke="#666" stroke-width="1"/>
<line x1="447" y1="402.5" x2="448.2" y2="402.5" stroke="#888" stroke-width="1"/>
<line x1="447" y1="438.5" x2="448.2" y2="438.5" stroke="#888" stroke-width="1"/>
<line x1="447" y1="474.5" x2="448.2" y2="474.5" stroke="#888" stroke-width="1"/>
<line x1="447" y1="510.5" x2="448.2" y2="510.5" stroke="#888" stroke-width="1"/>
<line x1="447" y1="546.5" x2="448.2" y2="546.5" stroke="#888" stroke-width="1"/>
<text transform="translate(446.4,589.8) scale(1.07,1)" text-anchor="end" font-size="10.6" fill="#000" font-family='"Liberation Sans", Arial, sans-serif'>1/cm</text>
<text transform="translate(230.4,604.6) scale(1.07,1)" text-anchor="middle" font-size="11.2" fill="#222" font-family='"Liberation Serif", "Times New Roman", serif'>(b)</text>
<polyline points="30,378.29 30.79,379.99 31.34,378.03 32.31,380.01 32.79,377.72 33.57,380.91 34.6,377.17 35.26,380.54 36.06,376.34 36.62,381.48 37.01,376.71 37.87,381.78 38.82,377.74 39.56,381.33 39.99,376.21 41.02,382.2 41.52,378.65 42.4,382.62 42.97,378.35 43.51,383.09 44.23,379.04 44.86,383.21" fill="none" stroke="#13179a" stroke-width="0.9" stroke-linejoin="round" stroke-linecap="round"/>
<polyline points="25.3,379 25.6,378.63 26.25,379.5 26.79,378.63 27.5,379.74 28.06,378.76 28.47,380.38 28.94,378.57 29.26,379.93 29.66,378.11 29.96,379.8 30.64,378.41 31.25,380.83 31.71,377.76 32.05,379.9 32.53,377.12 33.25,381.36 34.04,377.16 34.61,381.53 35.16,376.4 35.45,380.69 35.86,377.35 36.25,380.49 37.01,377.03 37.71,381.42 38.38,375.98 38.92,381 39.31,377.81 40.07,381.89 40.54,377.32 41.03,380.95 41.52,377.21 41.85,381.56 42.67,378.58 43.21,382.21 43.9,378.77 44.51,382.6 45.13,379.37 45.49,383.3 46.28,380.68 47,381.5 47.5,382.35 48,383.19 48.5,383.92 49,384.81 49.5,385.07 50,386.03 50.5,385.9 50.73,385.88 50.96,387.5 51.19,389.18 51.41,389.48 51.64,390.76 51.87,390.18 52.1,391.7 53.5,405.5 53.58,406.51 53.65,407.51 53.73,408.52 53.8,409.52 53.88,410.53 53.95,411.54 54.02,412.54 54.1,413.55 54.18,414.56 54.25,415.56 54.33,416.57 54.4,417.58 54.48,418.58 54.55,419.59 54.62,420.59 54.7,421.6 54.8,422.61 54.9,423.62 55,424.64 55.1,425.65 55.2,426.66 55.3,427.68 55.4,428.69 55.5,429.7 55.6,430.71 55.7,431.73 55.8,432.74 55.9,433.75 56,434.76 56.1,435.78 56.2,436.79 56.3,437.8 56.4,438.82 56.5,439.84 56.6,440.87 56.7,441.89 56.8,442.91 56.9,443.93 57,444.96 57.1,445.98 57.2,447 57.3,448.02 57.4,449.04 57.5,450.07 57.6,451.09 57.7,452.11 57.8,453.13 57.9,454.16 58,455.18 58.1,456.2 58.2,457.21 58.3,458.22 58.4,459.24 58.5,460.25 58.6,461.26 58.7,462.27 58.8,463.29 58.9,464.3 59,465.31 59.1,466.32 59.2,467.34 59.3,468.35 59.4,469.36 59.5,470.38 59.6,471.39 59.7,472.4 59.85,473.45 59.99,474.49 60.14,475.54 60.28,476.58 60.43,477.63 60.57,478.67 60.72,479.72 60.86,480.76 61.01,481.81 61.15,482.85 61.3,483.9 61.57,484.95 61.85,485.99 62.12,487.04 62.39,488.08 62.66,489.13 62.94,490.17 63.21,491.22 63.48,492.26 63.75,493.31 64.03,494.35 64.3,495.4 64.57,496.38 64.84,497.35 65.11,498.33 65.38,499.31 65.65,500.28 65.92,501.26 66.18,502.24 66.45,503.22 66.72,504.19 66.99,505.17 67.26,506.15 67.53,507.12 67.8,508.1 68.15,509.15 68.5,510.2 68.85,511.25 69.2,512.3 69.75,513.45 70.3,514.6 71.3,515.6 72.3,515 72.9,513.75 73.5,512.5 73.77,511.44 74.03,510.39 74.3,509.33 74.57,508.28 74.83,507.22 75.1,506.17 75.37,505.11 75.63,504.06 75.9,503 76.05,501.97 76.2,500.94 76.34,499.91 76.49,498.88 76.64,497.85 76.79,496.82 76.93,495.79 77.08,494.76 77.23,493.73 77.38,492.7 77.53,491.67 77.67,490.63 77.82,489.6 77.97,488.57 78.12,487.54 78.27,486.51 78.41,485.48 78.56,484.45 78.71,483.42 78.86,482.39 79,481.36 79.15,480.33 79.3,479.3 79.49,478.27 79.69,477.24 79.88,476.22 80.08,475.19 80.27,474.16 80.47,473.13 80.66,472.11 80.86,471.08 81.05,470.05 81.24,469.02 81.44,467.99 81.63,466.97 81.83,465.94 82.02,464.91 82.22,463.88 82.41,462.86 82.61,461.83 82.8,460.8 83.11,459.75 83.42,458.71 83.73,457.66 84.04,456.62 84.35,455.57 84.65,454.53 84.96,453.48 85.27,452.44 85.58,451.39 85.89,450.35 86.2,449.3 86.49,448.34 86.78,447.38 87.08,446.43 87.37,445.47 87.66,444.51 87.95,443.55 88.24,442.59 88.53,441.63 88.83,440.68 89.12,439.72 89.41,438.76 89.7,437.8 89.99,436.83 90.28,435.87 90.58,434.9 90.87,433.93 91.16,432.97 91.45,432 91.74,431.03 92.03,430.07 92.33,429.1 92.62,428.13 92.91,427.17 93.2,426.2 93.58,425.24 93.97,424.28 94.35,423.32 94.73,422.37 95.12,421.41 95.5,420.45 95.88,419.49 96.27,418.53 96.65,417.57 97.03,416.62 97.42,415.66 97.8,414.7 98.53,413.6 99.27,412.5 100,411.4 100.58,410.52 101.17,409.63 101.75,408.75 102.33,407.87 102.92,406.98 103.5,406.1 104.08,405.22 104.67,404.33 105.25,403.45 105.83,402.57 106.42,401.68 107,400.8 107.43,399.78 107.87,398.77 108.3,397.75 108.73,396.73 109.17,395.72 109.6,394.7 109.96,393.64 110.32,392.58 110.68,391.52 111.04,390.46 111.4,389.4 111.64,388.24 111.88,387.08 112.12,385.92 112.36,384.76 112.6,383.6 113.7,384.7 114,385.68 114.3,386.65 114.6,387.62 114.9,388.6 115.8,388.15 116.7,387.7 117.17,386.8 117.63,385.9 118.1,385 118.7,386.35 119.3,387.7 120.2,388.85 121.1,390 122.14,389.88 123.18,389.76 124.22,389.64 125.26,389.52 126.3,389.4 127.36,389.24 128.42,389.08 129.48,388.92 130.54,388.76 131.6,388.6 132.64,388.42 133.68,388.24 134.72,388.06 135.76,387.88 136.8,387.7 137.86,387.7 138.92,387.7 139.98,387.7 141.04,387.7 142.1,387.7 143.4,388.15 144.7,388.6 145.6,389.4 146.5,388.2 147.8,387.75 149.1,387.3 150.2,387.3 151.3,387.3 152.4,387.3 153.5,387.3 154.8,387.95 156.1,388.6 156.32,389.7 156.55,390.8 156.78,391.9 157,393 157.11,394.09 157.22,395.18 157.34,396.26 157.45,397.35 157.56,398.44 157.68,399.52 157.79,400.61 157.9,401.7 158.03,402.8 158.15,403.9 158.28,405 158.4,406.1 158.62,405 158.85,403.9 159.08,402.8 159.3,401.7 159.9,400.85 160.5,400 160.72,399 160.95,398 161.18,397 161.4,396 161.62,395 161.85,394 162.08,393 162.3,392 162.87,391.13 163.43,390.27 164,389.4 165.35,389.15 166.7,388.9 167.87,389.07 169.03,389.23 170.2,389.4 171.24,389.58 172.28,389.76 173.32,389.94 174.36,390.12 175.4,390.3 176.47,390.54 177.54,390.79 178.61,391.03 179.69,391.27 180.76,391.51 181.83,391.76 182.9,392 184.03,391.89 185.16,391.77 186.29,391.66 187.41,391.54 188.54,391.43 189.67,391.31 190.8,391.2 191.9,391.13 193,391.07 194.1,391 195.2,390.93 196.3,390.87 197.4,390.8 198.5,390.73 199.6,390.67 200.7,390.6 201.83,390.69 202.96,390.77 204.09,390.86 205.21,390.94 206.34,391.03 207.47,391.11 208.6,391.2 209.58,391.53 210.57,391.87 211.55,392.2 212.53,392.53 213.52,392.87 214.5,393.2 215.47,394.47 216.45,394.42 217.43,395.03 218.4,395.6 219.15,396.63 219.9,398.02 220.65,397.38 221.4,399.1 222.4,398.44 223.4,397.2 224.37,397.77 225.33,398.46 226.3,398.5 227.3,398.25 228.3,399.79 229.3,400.08 230.3,399.9 231.08,400.22 231.86,402.15 232.64,401.25 233.42,402.86 234.2,403.5 234.77,403.6 235.34,404.63 235.91,406.28 236.49,407.24 237.06,407.68 237.63,408.1 238.2,409.4 238.49,410.47 238.78,411.29 239.07,412.16 239.36,413.2 239.65,414.28 239.94,415.11 240.23,416.33 240.52,417.32 240.81,418.31 241.1,419.3 241.35,420.28 241.6,421.27 241.85,422.25 242.1,423.23 242.35,424.22 242.6,425.2 242.85,426.18 243.1,427.17 243.35,428.15 243.6,429.13 243.85,430.12 244.1,431.1 244.36,432.09 244.61,433.08 244.87,434.07 245.12,435.06 245.38,436.04 245.63,437.03 245.89,438.02 246.14,439.01 246.4,440 247,441.2 247.6,442.4 248.3,441.2 249,440 249.18,439.01 249.36,438.02 249.55,437.03 249.73,436.04 249.91,435.05 250.09,434.05 250.27,433.06 250.45,432.07 250.64,431.08 250.82,430.09 251,429.1 251.25,428.12 251.5,427.13 251.75,426.15 252,425.17 252.25,423.51 252.5,423.01 252.75,422.64 253,420.89 253.25,420.21 253.5,418.69 253.75,417.98 254,417.3 254.48,416.93 254.97,415.84 255.45,413.78 255.93,414 256.42,412.34 256.9,411.4 258,410.4 258.48,408.89 258.95,408.21 259.42,408.05 259.9,406.4 260.9,405.46 261.9,405.4 262.9,406.27 263.9,406.4 264.87,406.38 265.83,405.71 266.8,404.5 267.8,405.33 268.8,406.04 269.8,405.39 270.8,406.4 271.77,406.2 272.75,406.1 273.73,405.01 274.7,404.5 275.7,404.05 276.7,404.66 277.7,405.09 278.7,405.4 279.68,406.03 280.65,407.21 281.62,407.19 282.6,408.4 283.6,408.41 284.6,409.8 285.6,409.55 286.6,409.55 287.6,408.4 288.23,407.38 288.87,406.65 289.5,405.4 290.5,405.47 291.5,405.19 292.5,405.14 293.5,404.5 294.47,403.18 295.43,403.45 296.4,402.5 297.4,402.24 298.4,402.01 299.4,402.42 300.4,401.83 301.4,401.67 302.4,401.5 303.58,401.42 304.76,401.34 305.94,401.26 307.12,401.18 308.3,401.1 309.6,401.37 310.9,401.63 312.2,401.9 312.95,402.77 313.7,403.65 314.45,404.52 315.2,405.4 315.53,406.4 315.87,407.4 316.2,408.4 316.53,409.4 316.87,410.4 317.2,411.4 318.15,410.6 319.1,409.8 320.1,410.33 321.1,410.87 322.1,411.4 322.85,412.38 323.6,413.35 324.35,414.32 325.1,415.3 325.52,416.28 325.93,417.27 326.35,418.25 326.77,419.23 327.18,420.22 327.6,421.2 328.1,420.23 328.6,419.25 329.1,418.27 329.6,417.3 330,416.2 330.4,415.1 330.8,414 331.2,412.9 331.6,411.8 332.3,412.55 333,413.3 333.25,414.37 333.5,415.43 333.75,416.5 334,417.57 334.25,418.63 334.5,419.7 334.76,418.66 335.01,417.61 335.27,416.57 335.53,415.53 335.79,414.49 336.04,413.44 336.3,412.4 336.57,411.4 336.83,410.4 337.1,409.4 337.37,408.4 337.63,407.4 337.9,406.4 338.3,405.42 338.7,404.44 339.1,403.46 339.5,402.48 339.9,401.5 341.2,400.63 342.5,400.4 343.3,399.81 344.1,398.65 344.9,397.2 346.13,397.09 347.37,397.15 348.6,397.2 349.53,397.56 350.45,397.98 351.38,398.87 352.3,399.1 353.28,399.65 354.26,400.37 355.24,399.66 356.22,400.23 357.2,400.8 358.18,401.23 359.16,401.95 360.14,402.59 361.12,402.78 362.1,402.8 363.33,402.71 364.57,403.92 365.8,404 366.6,404.66 367.4,405.92 368.2,407 368.42,407.51 368.63,408.47 368.85,409.96 369.07,411.52 369.28,411.83 369.5,413.1 369.68,413.63 369.85,415.53 370.02,416.14 370.2,417.5 370.77,415.97 371.33,415.08 371.9,414.4 373.15,415.46 374.4,415.6 375.22,416.7 376.03,416.83 376.85,417.42 377.67,418.3 378.48,418.5 379.3,419.3 380.12,419.98 380.93,421.27 381.75,421.95 382.57,423.03 383.38,423.47 384.2,424.2 385.02,425.41 385.83,426.24 386.65,426.33 387.47,427.64 388.28,428.35 389.1,429.1 389.84,429.43 390.58,430.24 391.32,431.19 392.06,432.6 392.8,432.8 393.73,432.84 394.65,434.56 395.57,435.14 396.5,435.2 397.1,436.08 397.7,437.2 398.53,436.68 399.37,435.63 400.2,435.2 401,435.4 401.8,436.12 402.6,437.73 403.4,438.2 405.1,437.7 406.33,437.77 407.57,438.51 408.8,438.9 409.6,437.84 410.4,436.71 411.2,436.5 411.82,437.27 412.45,438.25 413.07,439.75 413.7,440.1 414.3,441.12 414.9,442.1 415.52,441.87 416.15,440.38 416.77,440.11 417.4,438.9 418.32,438.5 419.25,437.48 420.18,438.13 421.1,437.2 422.08,437.02 423.06,436.49 424.04,435.92 425.02,435.01 426,435.2 427.23,436.08 428.47,435.53 429.7,436.5 430.9,435.76 432.1,436.3 433.3,435.7 434.23,435.03 435.15,434.66 436.07,434.15 437,434 438.25,433.36 439.5,432.8 439.61,434.15 439.72,434.6 439.83,435.36 439.94,436.86 440.05,437.62 440.15,439.27 440.26,439.27 440.37,440.7 440.48,441.71 440.59,443.17 440.7,443.8 440.83,442.34 440.97,441.97 441.1,440.59 441.23,439.84 441.37,438.72 441.5,437.27 441.63,436.44 441.77,434.65 441.9,434 442.73,433.51 443.57,432.05 444.4,431.6 444.82,430.75 445.25,429.35 445.68,429.36 446.1,427.9 446.31,426.72 446.53,425.97 446.74,424.74 446.96,423.9 447.17,422.61 447.39,421.56 447.6,420.5" fill="none" stroke="#14143c" stroke-width="1.2" stroke-linejoin="round" stroke-linecap="round"/>
<polyline points="31,377.94 31.66,380.55 32.93,377.86 34,380.42 34.8,377.8 35.77,380.28 36.81,377.73 37.66,381.43 38.24,377.88 38.84,380.85 39.85,377.43 41.01,381.96 42.24,379.15 42.88,381.35" fill="none" stroke="#1c22b0" stroke-width="0.9" stroke-linejoin="round" stroke-linecap="round"/>
<line x1="36.8" y1="371.2" x2="36.8" y2="382.4" stroke="#1a1a70" stroke-width="1.0"/>
<line x1="45.4" y1="376" x2="45.4" y2="384" stroke="#14143c" stroke-width="0.9"/>
<text transform="translate(116.76,396.65) scale(1.06,1) rotate(-90)" text-anchor="end" font-size="9.6" fill="#1d1f5c" stroke="#1d1f5c" stroke-width="0.25" font-family='"Liberation Sans", Arial, sans-serif'>2891.39</text>
<line x1="115.5" y1="391.6" x2="115.5" y2="396.5" stroke="#55559a" stroke-width="0.75"/>
<text transform="translate(127.66,398.43) scale(1.06,1) rotate(-90)" text-anchor="end" font-size="9.6" fill="#1d1f5c" stroke="#1d1f5c" stroke-width="0.25" font-family='"Liberation Sans", Arial, sans-serif'>2825.81</text>
<line x1="121.9" y1="392.8" x2="121.9" y2="397.7" stroke="#55559a" stroke-width="0.75"/>
<text transform="translate(148.76,397.85) scale(1.06,1) rotate(-90)" text-anchor="end" font-size="9.6" fill="#1d1f5c" stroke="#1d1f5c" stroke-width="0.25" font-family='"Liberation Sans", Arial, sans-serif'>2517.19</text>
<line x1="146.4" y1="391.6" x2="146.4" y2="397.1" stroke="#55559a" stroke-width="0.75"/>
<text transform="translate(162.26,415.4) scale(1.06,1) rotate(-90)" text-anchor="end" font-size="9.6" fill="#1d1f5c" stroke="#1d1f5c" stroke-width="0.25" font-family='"Liberation Sans", Arial, sans-serif'>2360.95</text>
<line x1="158.7" y1="407.3" x2="158.7" y2="415.2" stroke="#55559a" stroke-width="0.75"/>
<text transform="translate(225.46,407.28) scale(1.06,1) rotate(-90)" text-anchor="end" font-size="9.6" fill="#1d1f5c" stroke="#1d1f5c" stroke-width="0.25" font-family='"Liberation Sans", Arial, sans-serif'>1793.86</text>
<line x1="221.5" y1="401.3" x2="221.5" y2="406.5" stroke="#55559a" stroke-width="0.75"/>
<text transform="translate(251.96,451.62) scale(1.06,1) rotate(-90)" text-anchor="end" font-size="9.6" fill="#1d1f5c" stroke="#1d1f5c" stroke-width="0.25" font-family='"Liberation Sans", Arial, sans-serif'>1629.90</text>
<line x1="248" y1="444.5" x2="248" y2="450.9" stroke="#55559a" stroke-width="0.75"/>
<text transform="translate(291.96,417.52) scale(1.06,1) rotate(-90)" text-anchor="end" font-size="9.6" fill="#1d1f5c" stroke="#1d1f5c" stroke-width="0.25" font-family='"Liberation Sans", Arial, sans-serif'>1400.37</text>
<line x1="287.3" y1="410.8" x2="287.3" y2="417.2" stroke="#55559a" stroke-width="0.75"/>
<text transform="translate(323.96,421.78) scale(1.06,1) rotate(-90)" text-anchor="end" font-size="9.6" fill="#1d1f5c" stroke="#1d1f5c" stroke-width="0.25" font-family='"Liberation Sans", Arial, sans-serif'>1199.76</text>
<line x1="318.3" y1="413.7" x2="318.3" y2="421.5" stroke="#55559a" stroke-width="0.75"/>
<text transform="translate(332.26,430.52) scale(1.06,1) rotate(-90)" text-anchor="end" font-size="9.6" fill="#1d1f5c" stroke="#1d1f5c" stroke-width="0.25" font-family='"Liberation Sans", Arial, sans-serif'>1138.04</text>
<line x1="328.2" y1="423" x2="328.2" y2="430" stroke="#55559a" stroke-width="0.75"/>
<text transform="translate(341.16,430.32) scale(1.06,1) rotate(-90)" text-anchor="end" font-size="9.6" fill="#1d1f5c" stroke="#1d1f5c" stroke-width="0.25" font-family='"Liberation Sans", Arial, sans-serif'>1093.67</text>
<line x1="335.4" y1="421.5" x2="335.4" y2="430" stroke="#55559a" stroke-width="0.75"/>
<text transform="translate(373.96,428.13) scale(1.06,1) rotate(-90)" text-anchor="end" font-size="9.6" fill="#1d1f5c" stroke="#1d1f5c" stroke-width="0.25" font-family='"Liberation Sans", Arial, sans-serif'>875.71</text>
<line x1="370.8" y1="420.4" x2="370.8" y2="427.5" stroke="#55559a" stroke-width="0.75"/>
<text transform="translate(399.76,446.85) scale(1.06,1) rotate(-90)" text-anchor="end" font-size="9.6" fill="#1d1f5c" stroke="#1d1f5c" stroke-width="0.25" font-family='"Liberation Sans", Arial, sans-serif'>713.69</text>
<line x1="396.9" y1="438" x2="396.9" y2="446.2" stroke="#55559a" stroke-width="0.75"/>
<text transform="translate(408.16,449.52) scale(1.06,1) rotate(-90)" text-anchor="end" font-size="9.6" fill="#1d1f5c" stroke="#1d1f5c" stroke-width="0.25" font-family='"Liberation Sans", Arial, sans-serif'>669.32</text>
<line x1="404.2" y1="441.8" x2="404.2" y2="448.9" stroke="#55559a" stroke-width="0.75"/>
<text transform="translate(419.66,450.63) scale(1.06,1) rotate(-90)" text-anchor="end" font-size="9.6" fill="#1d1f5c" stroke="#1d1f5c" stroke-width="0.25" font-family='"Liberation Sans", Arial, sans-serif'>601.81</text>
<line x1="415.4" y1="445.1" x2="415.4" y2="450.6" stroke="#55559a" stroke-width="0.75"/>
<text transform="translate(434.76,446.22) scale(1.06,1) rotate(-90)" text-anchor="end" font-size="9.6" fill="#1d1f5c" stroke="#1d1f5c" stroke-width="0.25" font-family='"Liberation Sans", Arial, sans-serif'>505.37</text>
<line x1="430.8" y1="439.6" x2="430.8" y2="446.2" stroke="#55559a" stroke-width="0.75"/>
<text transform="translate(446.56,451.32) scale(1.06,1) rotate(-90)" text-anchor="end" font-size="9.6" fill="#1d1f5c" stroke="#1d1f5c" stroke-width="0.25" font-family='"Liberation Sans", Arial, sans-serif'>447.50</text>
<line x1="440.3" y1="445.6" x2="440.3" y2="450.6" stroke="#55559a" stroke-width="0.75"/>
<text transform="translate(75.16,523.88) scale(1.06,1) rotate(-90)" text-anchor="end" font-size="9.6" fill="#1d1f5c" stroke="#1d1f5c" stroke-width="0.05" font-family='"Liberation Sans", Arial, sans-serif'>3431.48</text>
<line x1="71.5" y1="518.3" x2="71.5" y2="523.8" stroke="#55559a" stroke-width="0.75"/>
<text transform="translate(75.16,523.88) scale(1.06,1) rotate(-90)" text-anchor="end" font-size="9.6" fill="#1d1f5c" stroke="#1d1f5c" stroke-width="0.0" font-family='"Liberation Sans", Arial, sans-serif'>3434.46</text>
<line x1="71.5" y1="518.3" x2="71.5" y2="523.8" stroke="#55559a" stroke-width="0.75"/>
<line x1="25.5" y1="621.8" x2="448.2" y2="621.8" stroke="#8e8e8e" stroke-width="1.2"/>
<line x1="448.2" y1="621.8" x2="448.2" y2="824.3" stroke="#9a9a9a" stroke-width="1.2"/>
<line x1="22.1" y1="819.5" x2="25.5" y2="819.5" stroke="#666" stroke-width="1"/>
<line x1="22.1" y1="811.5" x2="25.5" y2="811.5" stroke="#666" stroke-width="1"/>
<line x1="20.6" y1="804.5" x2="25.5" y2="804.5" stroke="#555" stroke-width="1"/>
<line x1="22.1" y1="797.5" x2="25.5" y2="797.5" stroke="#666" stroke-width="1"/>
<line x1="22.1" y1="790.5" x2="25.5" y2="790.5" stroke="#666" stroke-width="1"/>
<line x1="22.1" y1="783.5" x2="25.5" y2="783.5" stroke="#666" stroke-width="1"/>
<line x1="22.1" y1="775.5" x2="25.5" y2="775.5" stroke="#666" stroke-width="1"/>
<line x1="20.6" y1="768.5" x2="25.5" y2="768.5" stroke="#555" stroke-width="1"/>
<line x1="22.1" y1="761.5" x2="25.5" y2="761.5" stroke="#666" stroke-width="1"/>
<line x1="22.1" y1="754.5" x2="25.5" y2="754.5" stroke="#666" stroke-width="1"/>
<line x1="22.1" y1="747.5" x2="25.5" y2="747.5" stroke="#666" stroke-width="1"/>
<line x1="22.1" y1="739.5" x2="25.5" y2="739.5" stroke="#666" stroke-width="1"/>
<line x1="20.6" y1="732.5" x2="25.5" y2="732.5" stroke="#555" stroke-width="1"/>
<line x1="22.1" y1="725.5" x2="25.5" y2="725.5" stroke="#666" stroke-width="1"/>
<line x1="22.1" y1="718.5" x2="25.5" y2="718.5" stroke="#666" stroke-width="1"/>
<line x1="22.1" y1="711.5" x2="25.5" y2="711.5" stroke="#666" stroke-width="1"/>
<line x1="22.1" y1="703.5" x2="25.5" y2="703.5" stroke="#666" stroke-width="1"/>
<line x1="20.6" y1="696.5" x2="25.5" y2="696.5" stroke="#555" stroke-width="1"/>
<line x1="22.1" y1="689.5" x2="25.5" y2="689.5" stroke="#666" stroke-width="1"/>
<line x1="22.1" y1="682.5" x2="25.5" y2="682.5" stroke="#666" stroke-width="1"/>
<line x1="22.1" y1="675.5" x2="25.5" y2="675.5" stroke="#666" stroke-width="1"/>
<line x1="22.1" y1="667.5" x2="25.5" y2="667.5" stroke="#666" stroke-width="1"/>
<line x1="20.6" y1="660.5" x2="25.5" y2="660.5" stroke="#555" stroke-width="1"/>
<line x1="22.1" y1="653.5" x2="25.5" y2="653.5" stroke="#666" stroke-width="1"/>
<line x1="22.1" y1="646.5" x2="25.5" y2="646.5" stroke="#666" stroke-width="1"/>
<line x1="22.1" y1="639.5" x2="25.5" y2="639.5" stroke="#666" stroke-width="1"/>
<line x1="22.1" y1="631.5" x2="25.5" y2="631.5" stroke="#666" stroke-width="1"/>
<line x1="20.6" y1="624.5" x2="25.5" y2="624.5" stroke="#555" stroke-width="1"/>
<text transform="translate(18.2,629) scale(1.07,1)" text-anchor="end" font-size="10.6" fill="#000" font-family='"Liberation Sans", Arial, sans-serif'>70</text>
<text transform="translate(18.2,665) scale(1.07,1)" text-anchor="end" font-size="10.6" fill="#000" font-family='"Liberation Sans", Arial, sans-serif'>65</text>
<text transform="translate(18.2,702) scale(1.07,1)" text-anchor="end" font-size="10.6" fill="#000" font-family='"Liberation Sans", Arial, sans-serif'>60</text>
<text transform="translate(18.2,738) scale(1.07,1)" text-anchor="end" font-size="10.6" fill="#000" font-family='"Liberation Sans", Arial, sans-serif'>55</text>
<text transform="translate(18.2,774) scale(1.07,1)" text-anchor="end" font-size="10.6" fill="#000" font-family='"Liberation Sans", Arial, sans-serif'>50</text>
<text transform="translate(18.2,810) scale(1.07,1)" text-anchor="end" font-size="10.6" fill="#000" font-family='"Liberation Sans", Arial, sans-serif'>45</text>
<text x="17" y="647.5" text-anchor="end" font-size="10.6" fill="#000" font-family='"Liberation Sans", Arial, sans-serif'>%T</text>
<line x1="25.5" y1="824.3" x2="25.5" y2="827.7" stroke="#555" stroke-width="1"/>
<line x1="33.5" y1="824.3" x2="33.5" y2="826.5" stroke="#555" stroke-width="1"/>
<line x1="41.5" y1="824.3" x2="41.5" y2="826.5" stroke="#555" stroke-width="1"/>
<line x1="49.5" y1="824.3" x2="49.5" y2="826.5" stroke="#555" stroke-width="1"/>
<line x1="57.5" y1="824.3" x2="57.5" y2="826.5" stroke="#555" stroke-width="1"/>
<line x1="66.5" y1="824.3" x2="66.5" y2="827.7" stroke="#555" stroke-width="1"/>
<line x1="74.5" y1="824.3" x2="74.5" y2="826.5" stroke="#555" stroke-width="1"/>
<line x1="82.5" y1="824.3" x2="82.5" y2="826.5" stroke="#555" stroke-width="1"/>
<line x1="90.5" y1="824.3" x2="90.5" y2="826.5" stroke="#555" stroke-width="1"/>
<line x1="98.5" y1="824.3" x2="98.5" y2="826.5" stroke="#555" stroke-width="1"/>
<line x1="106.5" y1="824.3" x2="106.5" y2="827.7" stroke="#555" stroke-width="1"/>
<line x1="114.5" y1="824.3" x2="114.5" y2="826.5" stroke="#555" stroke-width="1"/>
<line x1="122.5" y1="824.3" x2="122.5" y2="826.5" stroke="#555" stroke-width="1"/>
<line x1="130.5" y1="824.3" x2="130.5" y2="826.5" stroke="#555" stroke-width="1"/>
<line x1="139.5" y1="824.3" x2="139.5" y2="826.5" stroke="#555" stroke-width="1"/>
<line x1="147.5" y1="824.3" x2="147.5" y2="827.7" stroke="#555" stroke-width="1"/>
<line x1="155.5" y1="824.3" x2="155.5" y2="826.5" stroke="#555" stroke-width="1"/>
<line x1="163.5" y1="824.3" x2="163.5" y2="826.5" stroke="#555" stroke-width="1"/>
<line x1="171.5" y1="824.3" x2="171.5" y2="826.5" stroke="#555" stroke-width="1"/>
<line x1="179.5" y1="824.3" x2="179.5" y2="826.5" stroke="#555" stroke-width="1"/>
<line x1="187.5" y1="824.3" x2="187.5" y2="827.7" stroke="#555" stroke-width="1"/>
<line x1="195.5" y1="824.3" x2="195.5" y2="826.5" stroke="#555" stroke-width="1"/>
<line x1="204.5" y1="824.3" x2="204.5" y2="826.5" stroke="#555" stroke-width="1"/>
<line x1="212.5" y1="824.3" x2="212.5" y2="826.5" stroke="#555" stroke-width="1"/>
<line x1="220.5" y1="824.3" x2="220.5" y2="826.5" stroke="#555" stroke-width="1"/>
<line x1="228.5" y1="824.3" x2="228.5" y2="827.7" stroke="#555" stroke-width="1"/>
<line x1="236.5" y1="824.3" x2="236.5" y2="826.5" stroke="#555" stroke-width="1"/>
<line x1="244.5" y1="824.3" x2="244.5" y2="826.5" stroke="#555" stroke-width="1"/>
<line x1="252.5" y1="824.3" x2="252.5" y2="826.5" stroke="#555" stroke-width="1"/>
<line x1="260.5" y1="824.3" x2="260.5" y2="826.5" stroke="#555" stroke-width="1"/>
<line x1="269.5" y1="824.3" x2="269.5" y2="827.7" stroke="#555" stroke-width="1"/>
<line x1="277.5" y1="824.3" x2="277.5" y2="826.5" stroke="#555" stroke-width="1"/>
<line x1="285.5" y1="824.3" x2="285.5" y2="826.5" stroke="#555" stroke-width="1"/>
<line x1="293.5" y1="824.3" x2="293.5" y2="826.5" stroke="#555" stroke-width="1"/>
<line x1="301.5" y1="824.3" x2="301.5" y2="826.5" stroke="#555" stroke-width="1"/>
<line x1="309.5" y1="824.3" x2="309.5" y2="827.7" stroke="#555" stroke-width="1"/>
<line x1="317.5" y1="824.3" x2="317.5" y2="826.5" stroke="#555" stroke-width="1"/>
<line x1="325.5" y1="824.3" x2="325.5" y2="826.5" stroke="#555" stroke-width="1"/>
<line x1="333.5" y1="824.3" x2="333.5" y2="826.5" stroke="#555" stroke-width="1"/>
<line x1="342.5" y1="824.3" x2="342.5" y2="826.5" stroke="#555" stroke-width="1"/>
<line x1="350.5" y1="824.3" x2="350.5" y2="827.7" stroke="#555" stroke-width="1"/>
<line x1="358.5" y1="824.3" x2="358.5" y2="826.5" stroke="#555" stroke-width="1"/>
<line x1="366.5" y1="824.3" x2="366.5" y2="826.5" stroke="#555" stroke-width="1"/>
<line x1="374.5" y1="824.3" x2="374.5" y2="826.5" stroke="#555" stroke-width="1"/>
<line x1="382.5" y1="824.3" x2="382.5" y2="826.5" stroke="#555" stroke-width="1"/>
<line x1="390.5" y1="824.3" x2="390.5" y2="827.7" stroke="#555" stroke-width="1"/>
<line x1="398.5" y1="824.3" x2="398.5" y2="826.5" stroke="#555" stroke-width="1"/>
<line x1="407.5" y1="824.3" x2="407.5" y2="826.5" stroke="#555" stroke-width="1"/>
<line x1="415.5" y1="824.3" x2="415.5" y2="826.5" stroke="#555" stroke-width="1"/>
<line x1="423.5" y1="824.3" x2="423.5" y2="826.5" stroke="#555" stroke-width="1"/>
<line x1="431.5" y1="824.3" x2="431.5" y2="827.7" stroke="#555" stroke-width="1"/>
<line x1="439.5" y1="824.3" x2="439.5" y2="826.5" stroke="#555" stroke-width="1"/>
<line x1="447.5" y1="824.3" x2="447.5" y2="826.5" stroke="#555" stroke-width="1"/>
<line x1="25.5" y1="621.8" x2="25.5" y2="824.8" stroke="#8a8a8a" stroke-width="1"/>
<line x1="25" y1="824.3" x2="448" y2="824.3" stroke="#8a8a8a" stroke-width="1"/>
<text transform="translate(26.9,836.4) scale(1.07,1)" text-anchor="middle" font-size="10.6" fill="#000" font-family='"Liberation Sans", Arial, sans-serif'>4000</text>
<text transform="translate(64.05,836.4) scale(1.07,1)" text-anchor="middle" font-size="10.6" fill="#000" font-family='"Liberation Sans", Arial, sans-serif'>3500</text>
<text transform="translate(107,836.4) scale(1.07,1)" text-anchor="middle" font-size="10.6" fill="#000" font-family='"Liberation Sans", Arial, sans-serif'>3000</text>
<text transform="translate(150.2,836.4) scale(1.07,1)" text-anchor="middle" font-size="10.6" fill="#000" font-family='"Liberation Sans", Arial, sans-serif'>2500</text>
<text transform="translate(190.6,836.4) scale(1.07,1)" text-anchor="middle" font-size="10.6" fill="#000" font-family='"Liberation Sans", Arial, sans-serif'>2000</text>
<text transform="translate(231.2,836.4) scale(1.07,1)" text-anchor="middle" font-size="10.6" fill="#000" font-family='"Liberation Sans", Arial, sans-serif'>1750</text>
<text transform="translate(271.5,836.4) scale(1.07,1)" text-anchor="middle" font-size="10.6" fill="#000" font-family='"Liberation Sans", Arial, sans-serif'>1500</text>
<text transform="translate(314.7,836.4) scale(1.07,1)" text-anchor="middle" font-size="10.6" fill="#000" font-family='"Liberation Sans", Arial, sans-serif'>1250</text>
<text transform="translate(351.35,836.4) scale(1.07,1)" text-anchor="middle" font-size="10.6" fill="#000" font-family='"Liberation Sans", Arial, sans-serif'>1000</text>
<text transform="translate(391.35,836.4) scale(1.07,1)" text-anchor="middle" font-size="10.6" fill="#000" font-family='"Liberation Sans", Arial, sans-serif'>750</text>
<text transform="translate(431.5,836.4) scale(1.07,1)" text-anchor="middle" font-size="10.6" fill="#000" font-family='"Liberation Sans", Arial, sans-serif'>500</text>
<line x1="66.5" y1="621.8" x2="66.5" y2="623.1" stroke="#666" stroke-width="1"/>
<line x1="106.5" y1="621.8" x2="106.5" y2="623.1" stroke="#666" stroke-width="1"/>
<line x1="147.5" y1="621.8" x2="147.5" y2="623.1" stroke="#666" stroke-width="1"/>
<line x1="187.5" y1="621.8" x2="187.5" y2="623.1" stroke="#666" stroke-width="1"/>
<line x1="228.5" y1="621.8" x2="228.5" y2="623.1" stroke="#666" stroke-width="1"/>
<line x1="269.5" y1="621.8" x2="269.5" y2="623.1" stroke="#666" stroke-width="1"/>
<line x1="309.5" y1="621.8" x2="309.5" y2="623.1" stroke="#666" stroke-width="1"/>
<line x1="350.5" y1="621.8" x2="350.5" y2="623.1" stroke="#666" stroke-width="1"/>
<line x1="390.5" y1="621.8" x2="390.5" y2="623.1" stroke="#666" stroke-width="1"/>
<line x1="431.5" y1="621.8" x2="431.5" y2="623.1" stroke="#666" stroke-width="1"/>
<line x1="447" y1="660.5" x2="448.2" y2="660.5" stroke="#888" stroke-width="1"/>
<line x1="447" y1="696.5" x2="448.2" y2="696.5" stroke="#888" stroke-width="1"/>
<line x1="447" y1="732.5" x2="448.2" y2="732.5" stroke="#888" stroke-width="1"/>
<line x1="447" y1="768.5" x2="448.2" y2="768.5" stroke="#888" stroke-width="1"/>
<line x1="447" y1="804.5" x2="448.2" y2="804.5" stroke="#888" stroke-width="1"/>
<text transform="translate(446.4,847.6) scale(1.07,1)" text-anchor="end" font-size="10.6" fill="#000" font-family='"Liberation Sans", Arial, sans-serif'>1/cm</text>
<text transform="translate(230.4,862.4) scale(1.07,1)" text-anchor="middle" font-size="11.2" fill="#222" font-family='"Liberation Serif", "Times New Roman", serif'>(c)</text>
<polyline points="30,636.09 30.79,637.79 31.34,635.83 32.31,637.81 32.79,635.52 33.57,638.71 34.6,634.97 35.26,638.34 36.06,634.14 36.62,639.28 37.01,634.51 37.87,639.58 38.82,635.54 39.56,639.13 39.99,634.01 41.02,640 41.52,636.45 42.4,640.42 42.97,636.15 43.51,640.89 44.23,636.84 44.86,641.01" fill="none" stroke="#13179a" stroke-width="0.9" stroke-linejoin="round" stroke-linecap="round"/>
<polyline points="25.3,636.8 25.6,636.43 26.25,637.3 26.79,636.43 27.5,637.54 28.06,636.56 28.47,638.18 28.94,636.37 29.26,637.73 29.66,635.91 29.96,637.6 30.64,636.21 31.25,638.63 31.71,635.56 32.05,637.7 32.53,634.92 33.25,639.16 34.04,634.96 34.61,639.33 35.16,634.2 35.45,638.49 35.86,635.15 36.25,638.29 37.01,634.83 37.71,639.22 38.38,633.78 38.92,638.8 39.31,635.61 40.07,639.69 40.54,635.12 41.03,638.75 41.52,635.01 41.85,639.36 42.67,636.38 43.21,640.01 43.9,636.57 44.51,640.4 45.13,637.17 45.49,641.1 46.28,638.48 47,639.3 47.5,640.15 48,640.99 48.5,641.72 49,642.61 49.5,642.87 50,643.83 50.5,643.7 50.73,643.68 50.96,645.3 51.19,646.98 51.41,647.28 51.64,648.56 51.87,647.98 52.1,649.5 53.5,663.3 53.58,664.31 53.65,665.31 53.73,666.32 53.8,667.33 53.88,668.33 53.95,669.34 54.02,670.34 54.1,671.35 54.18,672.36 54.25,673.36 54.33,674.37 54.4,675.38 54.48,676.38 54.55,677.39 54.62,678.39 54.7,679.4 54.8,680.41 54.9,681.43 55,682.44 55.1,683.45 55.2,684.46 55.3,685.48 55.4,686.49 55.5,687.5 55.6,688.51 55.7,689.53 55.8,690.54 55.9,691.55 56,692.56 56.1,693.58 56.2,694.59 56.3,695.6 56.4,696.62 56.5,697.64 56.6,698.67 56.7,699.69 56.8,700.71 56.9,701.73 57,702.76 57.1,703.78 57.2,704.8 57.3,705.82 57.4,706.84 57.5,707.87 57.6,708.89 57.7,709.91 57.8,710.93 57.9,711.96 58,712.98 58.1,714 58.2,715.01 58.3,716.02 58.4,717.04 58.5,718.05 58.6,719.06 58.7,720.08 58.8,721.09 58.9,722.1 59,723.11 59.1,724.12 59.2,725.14 59.3,726.15 59.4,727.16 59.5,728.18 59.6,729.19 59.7,730.2 59.85,731.25 59.99,732.29 60.14,733.34 60.28,734.38 60.43,735.43 60.57,736.47 60.72,737.52 60.86,738.56 61.01,739.61 61.15,740.65 61.3,741.7 61.57,742.75 61.85,743.79 62.12,744.84 62.39,745.88 62.66,746.93 62.94,747.97 63.21,749.02 63.48,750.06 63.75,751.11 64.03,752.15 64.3,753.2 64.57,754.18 64.84,755.15 65.11,756.13 65.38,757.11 65.65,758.08 65.92,759.06 66.18,760.04 66.45,761.02 66.72,761.99 66.99,762.97 67.26,763.95 67.53,764.92 67.8,765.9 68.15,766.95 68.5,768 68.85,769.05 69.2,770.1 69.75,771.25 70.3,772.4 71.3,773.4 72.3,772.8 72.9,771.55 73.5,770.3 73.77,769.24 74.03,768.19 74.3,767.13 74.57,766.08 74.83,765.02 75.1,763.97 75.37,762.91 75.63,761.86 75.9,760.8 76.05,759.77 76.2,758.74 76.34,757.71 76.49,756.68 76.64,755.65 76.79,754.62 76.93,753.59 77.08,752.56 77.23,751.53 77.38,750.5 77.53,749.47 77.67,748.43 77.82,747.4 77.97,746.37 78.12,745.34 78.27,744.31 78.41,743.28 78.56,742.25 78.71,741.22 78.86,740.19 79,739.16 79.15,738.13 79.3,737.1 79.49,736.07 79.69,735.04 79.88,734.02 80.08,732.99 80.27,731.96 80.47,730.93 80.66,729.91 80.86,728.88 81.05,727.85 81.24,726.82 81.44,725.79 81.63,724.77 81.83,723.74 82.02,722.71 82.22,721.68 82.41,720.66 82.61,719.63 82.8,718.6 83.11,717.55 83.42,716.51 83.73,715.46 84.04,714.42 84.35,713.37 84.65,712.33 84.96,711.28 85.27,710.24 85.58,709.19 85.89,708.15 86.2,707.1 86.49,706.14 86.78,705.18 87.08,704.23 87.37,703.27 87.66,702.31 87.95,701.35 88.24,700.39 88.53,699.43 88.83,698.48 89.12,697.52 89.41,696.56 89.7,695.6 89.99,694.63 90.28,693.67 90.58,692.7 90.87,691.73 91.16,690.77 91.45,689.8 91.74,688.83 92.03,687.87 92.33,686.9 92.62,685.93 92.91,684.97 93.2,684 93.58,683.04 93.97,682.08 94.35,681.12 94.73,680.17 95.12,679.21 95.5,678.25 95.88,677.29 96.27,676.33 96.65,675.38 97.03,674.42 97.42,673.46 97.8,672.5 98.53,671.4 99.27,670.3 100,669.2 100.58,668.32 101.17,667.43 101.75,666.55 102.33,665.67 102.92,664.78 103.5,663.9 104.08,663.02 104.67,662.13 105.25,661.25 105.83,660.37 106.42,659.48 107,658.6 107.43,657.58 107.87,656.57 108.3,655.55 108.73,654.53 109.17,653.52 109.6,652.5 109.96,651.44 110.32,650.38 110.68,649.32 111.04,648.26 111.4,647.2 111.64,646.04 111.88,644.88 112.12,643.72 112.36,642.56 112.6,641.4 113.7,642.5 114,643.48 114.3,644.45 114.6,645.43 114.9,646.4 115.8,645.95 116.7,645.5 117.17,644.6 117.63,643.7 118.1,642.8 118.7,644.15 119.3,645.5 120.2,646.65 121.1,647.8 122.14,647.68 123.18,647.56 124.22,647.44 125.26,647.32 126.3,647.2 127.36,647.04 128.42,646.88 129.48,646.72 130.54,646.56 131.6,646.4 132.64,646.22 133.68,646.04 134.72,645.86 135.76,645.68 136.8,645.5 137.86,645.5 138.92,645.5 139.98,645.5 141.04,645.5 142.1,645.5 143.4,645.95 144.7,646.4 145.6,647.2 146.5,646 147.8,645.55 149.1,645.1 150.2,645.1 151.3,645.1 152.4,645.1 153.5,645.1 154.8,645.75 156.1,646.4 156.32,647.5 156.55,648.6 156.78,649.7 157,650.8 157.11,651.89 157.22,652.97 157.34,654.06 157.45,655.15 157.56,656.24 157.68,657.33 157.79,658.41 157.9,659.5 158.03,660.6 158.15,661.7 158.28,662.8 158.4,663.9 158.62,662.8 158.85,661.7 159.08,660.6 159.3,659.5 159.9,658.65 160.5,657.8 160.72,656.8 160.95,655.8 161.18,654.8 161.4,653.8 161.62,652.8 161.85,651.8 162.08,650.8 162.3,649.8 162.87,648.93 163.43,648.07 164,647.2 165.35,646.95 166.7,646.7 167.87,646.87 169.03,647.03 170.2,647.2 171.24,647.38 172.28,647.56 173.32,647.74 174.36,647.92 175.4,648.1 176.47,648.34 177.54,648.59 178.61,648.83 179.69,649.07 180.76,649.31 181.83,649.56 182.9,649.8 184.03,649.69 185.16,649.57 186.29,649.46 187.41,649.34 188.54,649.23 189.67,649.11 190.8,649 191.9,648.93 193,648.87 194.1,648.8 195.2,648.73 196.3,648.67 197.4,648.6 198.5,648.53 199.6,648.47 200.7,648.4 201.83,648.49 202.96,648.57 204.09,648.66 205.21,648.74 206.34,648.83 207.47,648.91 208.6,649 209.58,649.33 210.57,649.67 211.55,650 212.53,650.33 213.52,650.67 214.5,651 215.47,652.27 216.45,652.22 217.43,652.83 218.4,653.4 219.15,654.43 219.9,655.82 220.65,655.18 221.4,656.9 222.4,656.24 223.4,655 224.37,655.57 225.33,656.26 226.3,656.3 227.3,656.05 228.3,657.59 229.3,657.88 230.3,657.7 231.08,658.02 231.86,659.95 232.64,659.05 233.42,660.66 234.2,661.3 234.77,661.4 235.34,662.43 235.91,664.08 236.49,665.04 237.06,665.48 237.63,665.9 238.2,667.2 238.49,668.27 238.78,669.09 239.07,669.96 239.36,671 239.65,672.08 239.94,672.91 240.23,674.13 240.52,675.12 240.81,676.11 241.1,677.1 241.35,678.08 241.6,679.07 241.85,680.05 242.1,681.03 242.35,682.02 242.6,683 242.85,683.98 243.1,684.97 243.35,685.95 243.6,686.93 243.85,687.92 244.1,688.9 244.36,689.89 244.61,690.88 244.87,691.87 245.12,692.86 245.38,693.84 245.63,694.83 245.89,695.82 246.14,696.81 246.4,697.8 247,699 247.6,700.2 248.3,699 249,697.8 249.18,696.81 249.36,695.82 249.55,694.83 249.73,693.84 249.91,692.85 250.09,691.85 250.27,690.86 250.45,689.87 250.64,688.88 250.82,687.89 251,686.9 251.25,685.92 251.5,684.93 251.75,683.95 252,682.97 252.25,681.31 252.5,680.81 252.75,680.44 253,678.69 253.25,678.01 253.5,676.49 253.75,675.78 254,675.1 254.48,674.73 254.97,673.64 255.45,671.58 255.93,671.8 256.42,670.14 256.9,669.2 258,668.2 258.48,666.69 258.95,666.01 259.42,665.85 259.9,664.2 260.9,663.26 261.9,663.2 262.9,664.07 263.9,664.2 264.87,664.18 265.83,663.51 266.8,662.3 267.8,663.13 268.8,663.84 269.8,663.19 270.8,664.2 271.77,664 272.75,663.9 273.73,662.81 274.7,662.3 275.7,661.85 276.7,662.46 277.7,662.89 278.7,663.2 279.68,663.83 280.65,665.01 281.62,664.99 282.6,666.2 283.6,666.21 284.6,667.6 285.6,667.35 286.6,667.35 287.6,666.2 288.23,665.18 288.87,664.45 289.5,663.2 290.5,663.27 291.5,662.99 292.5,662.94 293.5,662.3 294.47,660.98 295.43,661.25 296.4,660.3 297.4,660.04 298.4,659.81 299.4,660.22 300.4,659.63 301.4,659.47 302.4,659.3 303.58,659.22 304.76,659.14 305.94,659.06 307.12,658.98 308.3,658.9 309.6,659.17 310.9,659.43 312.2,659.7 312.95,660.58 313.7,661.45 314.45,662.33 315.2,663.2 315.53,664.2 315.87,665.2 316.2,666.2 316.53,667.2 316.87,668.2 317.2,669.2 318.15,668.4 319.1,667.6 320.1,668.13 321.1,668.67 322.1,669.2 322.85,670.18 323.6,671.15 324.35,672.12 325.1,673.1 325.52,674.08 325.93,675.07 326.35,676.05 326.77,677.03 327.18,678.02 327.6,679 328.1,678.02 328.6,677.05 329.1,676.08 329.6,675.1 330,674 330.4,672.9 330.8,671.8 331.2,670.7 331.6,669.6 332.3,670.35 333,671.1 333.25,672.17 333.5,673.23 333.75,674.3 334,675.37 334.25,676.43 334.5,677.5 334.76,676.46 335.01,675.41 335.27,674.37 335.53,673.33 335.79,672.29 336.04,671.24 336.3,670.2 336.57,669.2 336.83,668.2 337.1,667.2 337.37,666.2 337.63,665.2 337.9,664.2 338.3,663.22 338.7,662.24 339.1,661.26 339.5,660.28 339.9,659.3 341.2,658.43 342.5,658.2 343.1,657.88 343.7,656.99 344.3,655.69 344.9,655 346.13,654.95 347.37,654.88 348.6,655 349.53,655.31 350.45,656.19 351.38,656.64 352.3,656.9 353.28,657.83 354.26,657.12 355.24,657.69 356.22,658.29 357.2,658.6 358.18,659.35 359.16,659.99 360.14,660.18 361.12,659.71 362.1,660.6 363.33,661.32 364.57,661.06 365.8,661.8 366.6,662.72 367.4,663.29 368.2,664.8 368.42,665.25 368.63,666.75 368.85,668.3 369.07,668.61 369.28,669.32 369.5,670.9 369.68,672.23 369.85,672.84 370.02,673.7 370.2,675.3 370.77,673.91 371.33,673.69 371.9,672.2 373.15,673.28 374.4,673.4 375.22,674.01 376.03,674.6 376.85,675.48 377.67,675.68 378.48,676.35 379.3,677.1 380.12,678.25 380.93,678.93 381.75,680.02 382.57,680.45 383.38,681.57 384.2,682 385.02,683.22 385.83,683.32 386.65,684.62 387.47,685.33 388.28,685.68 389.1,686.9 389.84,687.3 390.58,688.25 391.32,689.66 392.06,689.3 392.8,690.6 393.73,691.76 394.65,692.34 395.57,692.28 396.5,693 397.1,694.15 397.7,695 398.53,694.1 399.37,693.12 400.2,693 401,693.17 401.8,694.78 402.6,694.92 403.4,696 405.1,695.5 406.33,695.91 407.57,696.04 408.8,696.7 409.6,695.31 410.4,694.97 411.2,694.3 411.82,695.15 412.45,696.65 413.07,697.02 413.7,697.9 414.3,699.47 414.9,699.9 415.52,698.98 416.15,698.71 416.77,697.52 417.4,696.7 418.32,695.7 419.25,696.35 420.18,695.65 421.1,695 422.08,694.69 423.06,694.12 424.04,693.21 425.02,693.85 426,693 427.23,692.9 428.47,693.4 429.7,694.3 430.9,694.36 432.1,693.52 433.3,693.5 434.23,692.88 435.15,692.38 436.07,692.19 437,691.8 438.25,691.55 439.5,690.6 439.61,691.4 439.72,692.16 439.83,693.66 439.94,694.42 440.05,696.07 440.15,696.07 440.26,697.5 440.37,698.51 440.48,699.97 440.59,700.22 440.7,701.6 440.83,700.86 440.97,699.48 441.1,698.73 441.23,697.61 441.37,696.16 441.5,695.33 441.63,693.54 441.77,693.19 441.9,691.8 442.73,690.65 443.57,690.27 444.4,689.4 444.82,688.07 445.25,688.09 445.68,686.51 446.1,685.7 446.31,684.83 446.53,683.59 446.74,682.76 446.96,681.1 447.17,680.41 447.39,679.36 447.6,678.3" fill="none" stroke="#14143c" stroke-width="1.2" stroke-linejoin="round" stroke-linecap="round"/>
<polyline points="31,635.74 31.66,638.35 32.93,635.66 34,638.22 34.8,635.6 35.77,638.08 36.81,635.53 37.66,639.23 38.24,635.68 38.84,638.65 39.85,635.23 41.01,639.76 42.24,636.95 42.88,639.15" fill="none" stroke="#1c22b0" stroke-width="0.9" stroke-linejoin="round" stroke-linecap="round"/>
<line x1="36.8" y1="629" x2="36.8" y2="640.2" stroke="#1a1a70" stroke-width="1.0"/>
<line x1="45.4" y1="633.8" x2="45.4" y2="641.8" stroke="#14143c" stroke-width="0.9"/>
<text transform="translate(116.76,654.45) scale(1.06,1) rotate(-90)" text-anchor="end" font-size="9.6" fill="#1d1f5c" stroke="#1d1f5c" stroke-width="0.25" font-family='"Liberation Sans", Arial, sans-serif'>2891.39</text>
<line x1="115.5" y1="649.4" x2="115.5" y2="654.3" stroke="#55559a" stroke-width="0.75"/>
<text transform="translate(127.66,656.23) scale(1.06,1) rotate(-90)" text-anchor="end" font-size="9.6" fill="#1d1f5c" stroke="#1d1f5c" stroke-width="0.25" font-family='"Liberation Sans", Arial, sans-serif'>2825.81</text>
<line x1="121.9" y1="650.6" x2="121.9" y2="655.5" stroke="#55559a" stroke-width="0.75"/>
<text transform="translate(148.76,655.65) scale(1.06,1) rotate(-90)" text-anchor="end" font-size="9.6" fill="#1d1f5c" stroke="#1d1f5c" stroke-width="0.25" font-family='"Liberation Sans", Arial, sans-serif'>2517.19</text>
<line x1="146.4" y1="649.4" x2="146.4" y2="654.9" stroke="#55559a" stroke-width="0.75"/>
<text transform="translate(162.26,673.2) scale(1.06,1) rotate(-90)" text-anchor="end" font-size="9.6" fill="#1d1f5c" stroke="#1d1f5c" stroke-width="0.25" font-family='"Liberation Sans", Arial, sans-serif'>2360.95</text>
<line x1="158.7" y1="665.1" x2="158.7" y2="673" stroke="#55559a" stroke-width="0.75"/>
<text transform="translate(225.46,665.08) scale(1.06,1) rotate(-90)" text-anchor="end" font-size="9.6" fill="#1d1f5c" stroke="#1d1f5c" stroke-width="0.25" font-family='"Liberation Sans", Arial, sans-serif'>1793.86</text>
<line x1="221.5" y1="659.1" x2="221.5" y2="664.3" stroke="#55559a" stroke-width="0.75"/>
<text transform="translate(251.96,709.42) scale(1.06,1) rotate(-90)" text-anchor="end" font-size="9.6" fill="#1d1f5c" stroke="#1d1f5c" stroke-width="0.25" font-family='"Liberation Sans", Arial, sans-serif'>1629.90</text>
<line x1="248" y1="702.3" x2="248" y2="708.7" stroke="#55559a" stroke-width="0.75"/>
<text transform="translate(291.96,675.32) scale(1.06,1) rotate(-90)" text-anchor="end" font-size="9.6" fill="#1d1f5c" stroke="#1d1f5c" stroke-width="0.25" font-family='"Liberation Sans", Arial, sans-serif'>1400.37</text>
<line x1="287.3" y1="668.6" x2="287.3" y2="675" stroke="#55559a" stroke-width="0.75"/>
<text transform="translate(323.96,679.58) scale(1.06,1) rotate(-90)" text-anchor="end" font-size="9.6" fill="#1d1f5c" stroke="#1d1f5c" stroke-width="0.25" font-family='"Liberation Sans", Arial, sans-serif'>1199.76</text>
<line x1="318.3" y1="671.5" x2="318.3" y2="679.3" stroke="#55559a" stroke-width="0.75"/>
<text transform="translate(332.26,688.32) scale(1.06,1) rotate(-90)" text-anchor="end" font-size="9.6" fill="#1d1f5c" stroke="#1d1f5c" stroke-width="0.25" font-family='"Liberation Sans", Arial, sans-serif'>1138.04</text>
<line x1="328.2" y1="680.8" x2="328.2" y2="687.8" stroke="#55559a" stroke-width="0.75"/>
<text transform="translate(341.16,688.12) scale(1.06,1) rotate(-90)" text-anchor="end" font-size="9.6" fill="#1d1f5c" stroke="#1d1f5c" stroke-width="0.25" font-family='"Liberation Sans", Arial, sans-serif'>1093.67</text>
<line x1="335.4" y1="679.3" x2="335.4" y2="687.8" stroke="#55559a" stroke-width="0.75"/>
<text transform="translate(373.96,685.93) scale(1.06,1) rotate(-90)" text-anchor="end" font-size="9.6" fill="#1d1f5c" stroke="#1d1f5c" stroke-width="0.25" font-family='"Liberation Sans", Arial, sans-serif'>875.71</text>
<line x1="370.8" y1="678.2" x2="370.8" y2="685.3" stroke="#55559a" stroke-width="0.75"/>
<text transform="translate(399.76,704.65) scale(1.06,1) rotate(-90)" text-anchor="end" font-size="9.6" fill="#1d1f5c" stroke="#1d1f5c" stroke-width="0.25" font-family='"Liberation Sans", Arial, sans-serif'>713.69</text>
<line x1="396.9" y1="695.8" x2="396.9" y2="704" stroke="#55559a" stroke-width="0.75"/>
<text transform="translate(408.16,707.32) scale(1.06,1) rotate(-90)" text-anchor="end" font-size="9.6" fill="#1d1f5c" stroke="#1d1f5c" stroke-width="0.25" font-family='"Liberation Sans", Arial, sans-serif'>669.32</text>
<line x1="404.2" y1="699.6" x2="404.2" y2="706.7" stroke="#55559a" stroke-width="0.75"/>
<text transform="translate(419.66,708.43) scale(1.06,1) rotate(-90)" text-anchor="end" font-size="9.6" fill="#1d1f5c" stroke="#1d1f5c" stroke-width="0.25" font-family='"Liberation Sans", Arial, sans-serif'>601.81</text>
<line x1="415.4" y1="702.9" x2="415.4" y2="708.4" stroke="#55559a" stroke-width="0.75"/>
<text transform="translate(434.76,704.02) scale(1.06,1) rotate(-90)" text-anchor="end" font-size="9.6" fill="#1d1f5c" stroke="#1d1f5c" stroke-width="0.25" font-family='"Liberation Sans", Arial, sans-serif'>505.37</text>
<line x1="430.8" y1="697.4" x2="430.8" y2="704" stroke="#55559a" stroke-width="0.75"/>
<text transform="translate(446.56,709.12) scale(1.06,1) rotate(-90)" text-anchor="end" font-size="9.6" fill="#1d1f5c" stroke="#1d1f5c" stroke-width="0.25" font-family='"Liberation Sans", Arial, sans-serif'>447.50</text>
<line x1="440.3" y1="703.4" x2="440.3" y2="708.4" stroke="#55559a" stroke-width="0.75"/>
<text transform="translate(75.36,780.48) scale(1.06,1) rotate(-90)" text-anchor="end" font-size="9.6" fill="#1d1f5c" stroke="#1d1f5c" stroke-width="0.25" font-family='"Liberation Sans", Arial, sans-serif'>3431.48</text>
<line x1="71.7" y1="776.1" x2="71.7" y2="780.9" stroke="#55559a" stroke-width="0.75"/>
</svg>
</body></html>
